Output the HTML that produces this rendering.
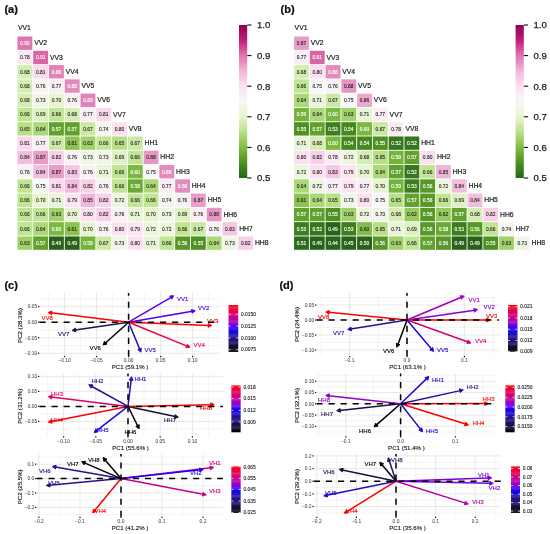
<!DOCTYPE html>
<html lang="en"><head><meta charset="utf-8"><title>Correlation heatmaps and PCA biplots</title>
<style>
html,body{margin:0;padding:0;background:#fff;}
body{width:550px;height:534px;overflow:hidden;}
svg{display:block;font-family:"Liberation Sans", Arial, sans-serif;}
</style></head><body>
<svg width="550" height="534" viewBox="0 0 550 534">
<rect width="550" height="534" fill="#ffffff"/>
<g class="hm">
<text x="4.40" y="12.90" font-size="11" fill="#111" stroke="#111" stroke-width="0.24" text-anchor="start" font-weight="bold">(a)</text>
<text x="18.00" y="29.90" font-size="6.8" fill="#1c1c1c" stroke="#1c1c1c" stroke-width="0.20" text-anchor="start">VV1</text>
<rect x="17.45" y="36.50" width="14.87" height="13.38" fill="#de77ae"/>
<text x="24.88" y="45.05" font-size="4.9" fill="#ffffff" stroke="#ffffff" stroke-width="0.11" text-anchor="middle">0.90</text>
<text x="34.17" y="45.24" font-size="6.8" fill="#1c1c1c" stroke="#1c1c1c" stroke-width="0.20" text-anchor="start">VV2</text>
<rect x="17.45" y="50.78" width="14.87" height="13.38" fill="#fbe9f2"/>
<text x="24.88" y="59.33" font-size="4.9" fill="#262626" stroke="#262626" stroke-width="0.11" text-anchor="middle">0.78</text>
<rect x="33.22" y="50.78" width="14.87" height="13.38" fill="#d965a4"/>
<text x="40.65" y="59.33" font-size="4.9" fill="#ffffff" stroke="#ffffff" stroke-width="0.11" text-anchor="middle">0.91</text>
<text x="49.94" y="59.52" font-size="6.8" fill="#1c1c1c" stroke="#1c1c1c" stroke-width="0.20" text-anchor="start">VV3</text>
<rect x="17.45" y="65.06" width="14.87" height="13.38" fill="#d4edb3"/>
<text x="24.88" y="73.61" font-size="4.9" fill="#262626" stroke="#262626" stroke-width="0.11" text-anchor="middle">0.68</text>
<rect x="33.22" y="65.06" width="14.87" height="13.38" fill="#fbd8eb"/>
<text x="40.65" y="73.61" font-size="4.9" fill="#262626" stroke="#262626" stroke-width="0.11" text-anchor="middle">0.81</text>
<rect x="48.99" y="65.06" width="14.87" height="13.38" fill="#e283b7"/>
<text x="56.42" y="73.61" font-size="4.9" fill="#ffffff" stroke="#ffffff" stroke-width="0.11" text-anchor="middle">0.89</text>
<text x="65.71" y="73.80" font-size="6.8" fill="#1c1c1c" stroke="#1c1c1c" stroke-width="0.20" text-anchor="start">VV4</text>
<rect x="17.45" y="79.34" width="14.87" height="13.38" fill="#d4edb3"/>
<text x="24.88" y="87.89" font-size="4.9" fill="#262626" stroke="#262626" stroke-width="0.11" text-anchor="middle">0.68</text>
<rect x="33.22" y="79.34" width="14.87" height="13.38" fill="#f8f2f5"/>
<text x="40.65" y="87.89" font-size="4.9" fill="#262626" stroke="#262626" stroke-width="0.11" text-anchor="middle">0.76</text>
<rect x="48.99" y="79.34" width="14.87" height="13.38" fill="#f9eef4"/>
<text x="56.42" y="87.89" font-size="4.9" fill="#262626" stroke="#262626" stroke-width="0.11" text-anchor="middle">0.77</text>
<rect x="64.76" y="79.34" width="14.87" height="13.38" fill="#e48bbc"/>
<text x="72.20" y="87.89" font-size="4.9" fill="#ffffff" stroke="#ffffff" stroke-width="0.11" text-anchor="middle">0.88</text>
<text x="81.48" y="88.08" font-size="6.8" fill="#1c1c1c" stroke="#1c1c1c" stroke-width="0.20" text-anchor="start">VV5</text>
<rect x="17.45" y="93.62" width="14.87" height="13.38" fill="#d4edb3"/>
<text x="24.88" y="102.17" font-size="4.9" fill="#262626" stroke="#262626" stroke-width="0.11" text-anchor="middle">0.68</text>
<rect x="33.22" y="93.62" width="14.87" height="13.38" fill="#f0f6e7"/>
<text x="40.65" y="102.17" font-size="4.9" fill="#262626" stroke="#262626" stroke-width="0.11" text-anchor="middle">0.73</text>
<rect x="48.99" y="93.62" width="14.87" height="13.38" fill="#e6f5d0"/>
<text x="56.42" y="102.17" font-size="4.9" fill="#262626" stroke="#262626" stroke-width="0.11" text-anchor="middle">0.70</text>
<rect x="64.76" y="93.62" width="14.87" height="13.38" fill="#f8f2f5"/>
<text x="72.20" y="102.17" font-size="4.9" fill="#262626" stroke="#262626" stroke-width="0.11" text-anchor="middle">0.76</text>
<rect x="80.53" y="93.62" width="14.87" height="13.38" fill="#e283b7"/>
<text x="87.97" y="102.17" font-size="4.9" fill="#ffffff" stroke="#ffffff" stroke-width="0.11" text-anchor="middle">0.89</text>
<text x="97.25" y="102.36" font-size="6.8" fill="#1c1c1c" stroke="#1c1c1c" stroke-width="0.20" text-anchor="start">VV6</text>
<rect x="17.45" y="107.90" width="14.87" height="13.38" fill="#c0e593"/>
<text x="24.88" y="116.45" font-size="4.9" fill="#262626" stroke="#262626" stroke-width="0.11" text-anchor="middle">0.66</text>
<rect x="33.22" y="107.90" width="14.87" height="13.38" fill="#ddf1c1"/>
<text x="40.65" y="116.45" font-size="4.9" fill="#262626" stroke="#262626" stroke-width="0.11" text-anchor="middle">0.69</text>
<rect x="48.99" y="107.90" width="14.87" height="13.38" fill="#c0e593"/>
<text x="56.42" y="116.45" font-size="4.9" fill="#262626" stroke="#262626" stroke-width="0.11" text-anchor="middle">0.66</text>
<rect x="64.76" y="107.90" width="14.87" height="13.38" fill="#d4edb3"/>
<text x="72.20" y="116.45" font-size="4.9" fill="#262626" stroke="#262626" stroke-width="0.11" text-anchor="middle">0.68</text>
<rect x="80.53" y="107.90" width="14.87" height="13.38" fill="#f9eef4"/>
<text x="87.97" y="116.45" font-size="4.9" fill="#262626" stroke="#262626" stroke-width="0.11" text-anchor="middle">0.77</text>
<rect x="96.30" y="107.90" width="14.87" height="13.38" fill="#fbd8eb"/>
<text x="103.73" y="116.45" font-size="4.9" fill="#262626" stroke="#262626" stroke-width="0.11" text-anchor="middle">0.81</text>
<text x="113.02" y="116.64" font-size="6.8" fill="#1c1c1c" stroke="#1c1c1c" stroke-width="0.20" text-anchor="start">VV7</text>
<rect x="17.45" y="122.18" width="14.87" height="13.38" fill="#b7e085"/>
<text x="24.88" y="130.73" font-size="4.9" fill="#262626" stroke="#262626" stroke-width="0.11" text-anchor="middle">0.65</text>
<rect x="33.22" y="122.18" width="14.87" height="13.38" fill="#acd977"/>
<text x="40.65" y="130.73" font-size="4.9" fill="#262626" stroke="#262626" stroke-width="0.11" text-anchor="middle">0.64</text>
<rect x="48.99" y="122.18" width="14.87" height="13.38" fill="#60a22d"/>
<text x="56.42" y="130.73" font-size="4.9" fill="#ffffff" stroke="#ffffff" stroke-width="0.11" text-anchor="middle">0.57</text>
<rect x="64.76" y="122.18" width="14.87" height="13.38" fill="#60a22d"/>
<text x="72.20" y="130.73" font-size="4.9" fill="#ffffff" stroke="#ffffff" stroke-width="0.11" text-anchor="middle">0.57</text>
<rect x="80.53" y="122.18" width="14.87" height="13.38" fill="#cbe9a4"/>
<text x="87.97" y="130.73" font-size="4.9" fill="#262626" stroke="#262626" stroke-width="0.11" text-anchor="middle">0.67</text>
<rect x="96.30" y="122.18" width="14.87" height="13.38" fill="#f3f7ef"/>
<text x="103.73" y="130.73" font-size="4.9" fill="#262626" stroke="#262626" stroke-width="0.11" text-anchor="middle">0.74</text>
<rect x="112.07" y="122.18" width="14.87" height="13.38" fill="#fde0ef"/>
<text x="119.51" y="130.73" font-size="4.9" fill="#262626" stroke="#262626" stroke-width="0.11" text-anchor="middle">0.80</text>
<text x="128.79" y="130.92" font-size="6.8" fill="#1c1c1c" stroke="#1c1c1c" stroke-width="0.20" text-anchor="start">VV8</text>
<rect x="17.45" y="136.46" width="14.87" height="13.38" fill="#fbd8eb"/>
<text x="24.88" y="145.01" font-size="4.9" fill="#262626" stroke="#262626" stroke-width="0.11" text-anchor="middle">0.81</text>
<rect x="33.22" y="136.46" width="14.87" height="13.38" fill="#f9eef4"/>
<text x="40.65" y="145.01" font-size="4.9" fill="#262626" stroke="#262626" stroke-width="0.11" text-anchor="middle">0.77</text>
<rect x="48.99" y="136.46" width="14.87" height="13.38" fill="#cbe9a4"/>
<text x="56.42" y="145.01" font-size="4.9" fill="#262626" stroke="#262626" stroke-width="0.11" text-anchor="middle">0.67</text>
<rect x="64.76" y="136.46" width="14.87" height="13.38" fill="#8ac34f"/>
<text x="72.20" y="145.01" font-size="4.9" fill="#262626" stroke="#262626" stroke-width="0.11" text-anchor="middle">0.61</text>
<rect x="80.53" y="136.46" width="14.87" height="13.38" fill="#a1d26a"/>
<text x="87.97" y="145.01" font-size="4.9" fill="#262626" stroke="#262626" stroke-width="0.11" text-anchor="middle">0.63</text>
<rect x="96.30" y="136.46" width="14.87" height="13.38" fill="#c0e593"/>
<text x="103.73" y="145.01" font-size="4.9" fill="#262626" stroke="#262626" stroke-width="0.11" text-anchor="middle">0.66</text>
<rect x="112.07" y="136.46" width="14.87" height="13.38" fill="#b7e085"/>
<text x="119.51" y="145.01" font-size="4.9" fill="#262626" stroke="#262626" stroke-width="0.11" text-anchor="middle">0.65</text>
<rect x="127.84" y="136.46" width="14.87" height="13.38" fill="#cbe9a4"/>
<text x="135.28" y="145.01" font-size="4.9" fill="#262626" stroke="#262626" stroke-width="0.11" text-anchor="middle">0.67</text>
<text x="144.56" y="145.20" font-size="6.8" fill="#1c1c1c" stroke="#1c1c1c" stroke-width="0.20" text-anchor="start">HH1</text>
<rect x="17.45" y="150.74" width="14.87" height="13.38" fill="#f3bdde"/>
<text x="24.88" y="159.29" font-size="4.9" fill="#262626" stroke="#262626" stroke-width="0.11" text-anchor="middle">0.84</text>
<rect x="33.22" y="150.74" width="14.87" height="13.38" fill="#e99cc8"/>
<text x="40.65" y="159.29" font-size="4.9" fill="#262626" stroke="#262626" stroke-width="0.11" text-anchor="middle">0.87</text>
<rect x="48.99" y="150.74" width="14.87" height="13.38" fill="#f8d0e7"/>
<text x="56.42" y="159.29" font-size="4.9" fill="#262626" stroke="#262626" stroke-width="0.11" text-anchor="middle">0.82</text>
<rect x="64.76" y="150.74" width="14.87" height="13.38" fill="#f8f2f5"/>
<text x="72.20" y="159.29" font-size="4.9" fill="#262626" stroke="#262626" stroke-width="0.11" text-anchor="middle">0.76</text>
<rect x="80.53" y="150.74" width="14.87" height="13.38" fill="#f0f6e7"/>
<text x="87.97" y="159.29" font-size="4.9" fill="#262626" stroke="#262626" stroke-width="0.11" text-anchor="middle">0.73</text>
<rect x="96.30" y="150.74" width="14.87" height="13.38" fill="#f0f6e7"/>
<text x="103.73" y="159.29" font-size="4.9" fill="#262626" stroke="#262626" stroke-width="0.11" text-anchor="middle">0.73</text>
<rect x="112.07" y="150.74" width="14.87" height="13.38" fill="#ddf1c1"/>
<text x="119.51" y="159.29" font-size="4.9" fill="#262626" stroke="#262626" stroke-width="0.11" text-anchor="middle">0.69</text>
<rect x="127.84" y="150.74" width="14.87" height="13.38" fill="#c0e593"/>
<text x="135.28" y="159.29" font-size="4.9" fill="#262626" stroke="#262626" stroke-width="0.11" text-anchor="middle">0.66</text>
<rect x="143.61" y="150.74" width="14.87" height="13.38" fill="#e795c3"/>
<text x="151.04" y="159.29" font-size="4.9" fill="#262626" stroke="#262626" stroke-width="0.11" text-anchor="middle">0.88</text>
<text x="160.33" y="159.48" font-size="6.8" fill="#1c1c1c" stroke="#1c1c1c" stroke-width="0.20" text-anchor="start">HH2</text>
<rect x="17.45" y="165.02" width="14.87" height="13.38" fill="#f8f2f5"/>
<text x="24.88" y="173.57" font-size="4.9" fill="#262626" stroke="#262626" stroke-width="0.11" text-anchor="middle">0.76</text>
<rect x="33.22" y="165.02" width="14.87" height="13.38" fill="#f3bdde"/>
<text x="40.65" y="173.57" font-size="4.9" fill="#262626" stroke="#262626" stroke-width="0.11" text-anchor="middle">0.84</text>
<rect x="48.99" y="165.02" width="14.87" height="13.38" fill="#e99cc8"/>
<text x="56.42" y="173.57" font-size="4.9" fill="#262626" stroke="#262626" stroke-width="0.11" text-anchor="middle">0.87</text>
<rect x="64.76" y="165.02" width="14.87" height="13.38" fill="#f6c7e3"/>
<text x="72.20" y="173.57" font-size="4.9" fill="#262626" stroke="#262626" stroke-width="0.11" text-anchor="middle">0.83</text>
<rect x="80.53" y="165.02" width="14.87" height="13.38" fill="#f8f2f5"/>
<text x="87.97" y="173.57" font-size="4.9" fill="#262626" stroke="#262626" stroke-width="0.11" text-anchor="middle">0.76</text>
<rect x="96.30" y="165.02" width="14.87" height="13.38" fill="#e9f5d8"/>
<text x="103.73" y="173.57" font-size="4.9" fill="#262626" stroke="#262626" stroke-width="0.11" text-anchor="middle">0.71</text>
<rect x="112.07" y="165.02" width="14.87" height="13.38" fill="#c0e593"/>
<text x="119.51" y="173.57" font-size="4.9" fill="#262626" stroke="#262626" stroke-width="0.11" text-anchor="middle">0.66</text>
<rect x="127.84" y="165.02" width="14.87" height="13.38" fill="#7bb93e"/>
<text x="135.28" y="173.57" font-size="4.9" fill="#ffffff" stroke="#ffffff" stroke-width="0.11" text-anchor="middle">0.60</text>
<rect x="143.61" y="165.02" width="14.87" height="13.38" fill="#f7f7f7"/>
<text x="151.04" y="173.57" font-size="4.9" fill="#262626" stroke="#262626" stroke-width="0.11" text-anchor="middle">0.75</text>
<rect x="159.38" y="165.02" width="14.87" height="13.38" fill="#e48bbc"/>
<text x="166.81" y="173.57" font-size="4.9" fill="#ffffff" stroke="#ffffff" stroke-width="0.11" text-anchor="middle">0.88</text>
<text x="176.10" y="173.76" font-size="6.8" fill="#1c1c1c" stroke="#1c1c1c" stroke-width="0.20" text-anchor="start">HH3</text>
<rect x="17.45" y="179.30" width="14.87" height="13.38" fill="#c0e593"/>
<text x="24.88" y="187.85" font-size="4.9" fill="#262626" stroke="#262626" stroke-width="0.11" text-anchor="middle">0.66</text>
<rect x="33.22" y="179.30" width="14.87" height="13.38" fill="#f7f7f7"/>
<text x="40.65" y="187.85" font-size="4.9" fill="#262626" stroke="#262626" stroke-width="0.11" text-anchor="middle">0.75</text>
<rect x="48.99" y="179.30" width="14.87" height="13.38" fill="#fbd8eb"/>
<text x="56.42" y="187.85" font-size="4.9" fill="#262626" stroke="#262626" stroke-width="0.11" text-anchor="middle">0.81</text>
<rect x="64.76" y="179.30" width="14.87" height="13.38" fill="#f3bdde"/>
<text x="72.20" y="187.85" font-size="4.9" fill="#262626" stroke="#262626" stroke-width="0.11" text-anchor="middle">0.84</text>
<rect x="80.53" y="179.30" width="14.87" height="13.38" fill="#f8d0e7"/>
<text x="87.97" y="187.85" font-size="4.9" fill="#262626" stroke="#262626" stroke-width="0.11" text-anchor="middle">0.82</text>
<rect x="96.30" y="179.30" width="14.87" height="13.38" fill="#f8f2f5"/>
<text x="103.73" y="187.85" font-size="4.9" fill="#262626" stroke="#262626" stroke-width="0.11" text-anchor="middle">0.76</text>
<rect x="112.07" y="179.30" width="14.87" height="13.38" fill="#c0e593"/>
<text x="119.51" y="187.85" font-size="4.9" fill="#262626" stroke="#262626" stroke-width="0.11" text-anchor="middle">0.66</text>
<rect x="127.84" y="179.30" width="14.87" height="13.38" fill="#69aa33"/>
<text x="135.28" y="187.85" font-size="4.9" fill="#ffffff" stroke="#ffffff" stroke-width="0.11" text-anchor="middle">0.58</text>
<rect x="143.61" y="179.30" width="14.87" height="13.38" fill="#acd977"/>
<text x="151.04" y="187.85" font-size="4.9" fill="#262626" stroke="#262626" stroke-width="0.11" text-anchor="middle">0.64</text>
<rect x="159.38" y="179.30" width="14.87" height="13.38" fill="#f9eef4"/>
<text x="166.81" y="187.85" font-size="4.9" fill="#262626" stroke="#262626" stroke-width="0.11" text-anchor="middle">0.77</text>
<rect x="175.15" y="179.30" width="14.87" height="13.38" fill="#e48bbc"/>
<text x="182.58" y="187.85" font-size="4.9" fill="#ffffff" stroke="#ffffff" stroke-width="0.11" text-anchor="middle">0.88</text>
<text x="191.87" y="188.04" font-size="6.8" fill="#1c1c1c" stroke="#1c1c1c" stroke-width="0.20" text-anchor="start">HH4</text>
<rect x="17.45" y="193.58" width="14.87" height="13.38" fill="#c0e593"/>
<text x="24.88" y="202.13" font-size="4.9" fill="#262626" stroke="#262626" stroke-width="0.11" text-anchor="middle">0.66</text>
<rect x="33.22" y="193.58" width="14.87" height="13.38" fill="#e6f5d0"/>
<text x="40.65" y="202.13" font-size="4.9" fill="#262626" stroke="#262626" stroke-width="0.11" text-anchor="middle">0.70</text>
<rect x="48.99" y="193.58" width="14.87" height="13.38" fill="#e9f5d8"/>
<text x="56.42" y="202.13" font-size="4.9" fill="#262626" stroke="#262626" stroke-width="0.11" text-anchor="middle">0.71</text>
<rect x="64.76" y="193.58" width="14.87" height="13.38" fill="#fce5f1"/>
<text x="72.20" y="202.13" font-size="4.9" fill="#262626" stroke="#262626" stroke-width="0.11" text-anchor="middle">0.79</text>
<rect x="80.53" y="193.58" width="14.87" height="13.38" fill="#f1b5d9"/>
<text x="87.97" y="202.13" font-size="4.9" fill="#262626" stroke="#262626" stroke-width="0.11" text-anchor="middle">0.85</text>
<rect x="96.30" y="193.58" width="14.87" height="13.38" fill="#f8d0e7"/>
<text x="103.73" y="202.13" font-size="4.9" fill="#262626" stroke="#262626" stroke-width="0.11" text-anchor="middle">0.82</text>
<rect x="112.07" y="193.58" width="14.87" height="13.38" fill="#edf6df"/>
<text x="119.51" y="202.13" font-size="4.9" fill="#262626" stroke="#262626" stroke-width="0.11" text-anchor="middle">0.72</text>
<rect x="127.84" y="193.58" width="14.87" height="13.38" fill="#c0e593"/>
<text x="135.28" y="202.13" font-size="4.9" fill="#262626" stroke="#262626" stroke-width="0.11" text-anchor="middle">0.66</text>
<rect x="143.61" y="193.58" width="14.87" height="13.38" fill="#c0e593"/>
<text x="151.04" y="202.13" font-size="4.9" fill="#262626" stroke="#262626" stroke-width="0.11" text-anchor="middle">0.66</text>
<rect x="159.38" y="193.58" width="14.87" height="13.38" fill="#f3f7ef"/>
<text x="166.81" y="202.13" font-size="4.9" fill="#262626" stroke="#262626" stroke-width="0.11" text-anchor="middle">0.74</text>
<rect x="175.15" y="193.58" width="14.87" height="13.38" fill="#f8f2f5"/>
<text x="182.58" y="202.13" font-size="4.9" fill="#262626" stroke="#262626" stroke-width="0.11" text-anchor="middle">0.76</text>
<rect x="190.92" y="193.58" width="14.87" height="13.38" fill="#e99cc8"/>
<text x="198.35" y="202.13" font-size="4.9" fill="#262626" stroke="#262626" stroke-width="0.11" text-anchor="middle">0.87</text>
<text x="207.64" y="202.32" font-size="6.8" fill="#1c1c1c" stroke="#1c1c1c" stroke-width="0.20" text-anchor="start">HH5</text>
<rect x="17.45" y="207.86" width="14.87" height="13.38" fill="#c0e593"/>
<text x="24.88" y="216.41" font-size="4.9" fill="#262626" stroke="#262626" stroke-width="0.11" text-anchor="middle">0.66</text>
<rect x="33.22" y="207.86" width="14.87" height="13.38" fill="#c0e593"/>
<text x="40.65" y="216.41" font-size="4.9" fill="#262626" stroke="#262626" stroke-width="0.11" text-anchor="middle">0.66</text>
<rect x="48.99" y="207.86" width="14.87" height="13.38" fill="#a1d26a"/>
<text x="56.42" y="216.41" font-size="4.9" fill="#262626" stroke="#262626" stroke-width="0.11" text-anchor="middle">0.63</text>
<rect x="64.76" y="207.86" width="14.87" height="13.38" fill="#e6f5d0"/>
<text x="72.20" y="216.41" font-size="4.9" fill="#262626" stroke="#262626" stroke-width="0.11" text-anchor="middle">0.70</text>
<rect x="80.53" y="207.86" width="14.87" height="13.38" fill="#fde0ef"/>
<text x="87.97" y="216.41" font-size="4.9" fill="#262626" stroke="#262626" stroke-width="0.11" text-anchor="middle">0.80</text>
<rect x="96.30" y="207.86" width="14.87" height="13.38" fill="#f8d0e7"/>
<text x="103.73" y="216.41" font-size="4.9" fill="#262626" stroke="#262626" stroke-width="0.11" text-anchor="middle">0.82</text>
<rect x="112.07" y="207.86" width="14.87" height="13.38" fill="#f8f2f5"/>
<text x="119.51" y="216.41" font-size="4.9" fill="#262626" stroke="#262626" stroke-width="0.11" text-anchor="middle">0.76</text>
<rect x="127.84" y="207.86" width="14.87" height="13.38" fill="#e9f5d8"/>
<text x="135.28" y="216.41" font-size="4.9" fill="#262626" stroke="#262626" stroke-width="0.11" text-anchor="middle">0.71</text>
<rect x="143.61" y="207.86" width="14.87" height="13.38" fill="#e6f5d0"/>
<text x="151.04" y="216.41" font-size="4.9" fill="#262626" stroke="#262626" stroke-width="0.11" text-anchor="middle">0.70</text>
<rect x="159.38" y="207.86" width="14.87" height="13.38" fill="#f0f6e7"/>
<text x="166.81" y="216.41" font-size="4.9" fill="#262626" stroke="#262626" stroke-width="0.11" text-anchor="middle">0.73</text>
<rect x="175.15" y="207.86" width="14.87" height="13.38" fill="#ddf1c1"/>
<text x="182.58" y="216.41" font-size="4.9" fill="#262626" stroke="#262626" stroke-width="0.11" text-anchor="middle">0.69</text>
<rect x="190.92" y="207.86" width="14.87" height="13.38" fill="#f8f2f5"/>
<text x="198.35" y="216.41" font-size="4.9" fill="#262626" stroke="#262626" stroke-width="0.11" text-anchor="middle">0.76</text>
<rect x="206.69" y="207.86" width="14.87" height="13.38" fill="#e795c3"/>
<text x="214.12" y="216.41" font-size="4.9" fill="#262626" stroke="#262626" stroke-width="0.11" text-anchor="middle">0.88</text>
<text x="223.41" y="216.60" font-size="6.8" fill="#1c1c1c" stroke="#1c1c1c" stroke-width="0.20" text-anchor="start">HH6</text>
<rect x="17.45" y="222.14" width="14.87" height="13.38" fill="#c0e593"/>
<text x="24.88" y="230.69" font-size="4.9" fill="#262626" stroke="#262626" stroke-width="0.11" text-anchor="middle">0.66</text>
<rect x="33.22" y="222.14" width="14.87" height="13.38" fill="#acd977"/>
<text x="40.65" y="230.69" font-size="4.9" fill="#262626" stroke="#262626" stroke-width="0.11" text-anchor="middle">0.64</text>
<rect x="48.99" y="222.14" width="14.87" height="13.38" fill="#7bb93e"/>
<text x="56.42" y="230.69" font-size="4.9" fill="#ffffff" stroke="#ffffff" stroke-width="0.11" text-anchor="middle">0.60</text>
<rect x="64.76" y="222.14" width="14.87" height="13.38" fill="#8ac34f"/>
<text x="72.20" y="230.69" font-size="4.9" fill="#262626" stroke="#262626" stroke-width="0.11" text-anchor="middle">0.61</text>
<rect x="80.53" y="222.14" width="14.87" height="13.38" fill="#e6f5d0"/>
<text x="87.97" y="230.69" font-size="4.9" fill="#262626" stroke="#262626" stroke-width="0.11" text-anchor="middle">0.70</text>
<rect x="96.30" y="222.14" width="14.87" height="13.38" fill="#f8f2f5"/>
<text x="103.73" y="230.69" font-size="4.9" fill="#262626" stroke="#262626" stroke-width="0.11" text-anchor="middle">0.76</text>
<rect x="112.07" y="222.14" width="14.87" height="13.38" fill="#fde0ef"/>
<text x="119.51" y="230.69" font-size="4.9" fill="#262626" stroke="#262626" stroke-width="0.11" text-anchor="middle">0.80</text>
<rect x="127.84" y="222.14" width="14.87" height="13.38" fill="#fce5f1"/>
<text x="135.28" y="230.69" font-size="4.9" fill="#262626" stroke="#262626" stroke-width="0.11" text-anchor="middle">0.79</text>
<rect x="143.61" y="222.14" width="14.87" height="13.38" fill="#edf6df"/>
<text x="151.04" y="230.69" font-size="4.9" fill="#262626" stroke="#262626" stroke-width="0.11" text-anchor="middle">0.72</text>
<rect x="159.38" y="222.14" width="14.87" height="13.38" fill="#edf6df"/>
<text x="166.81" y="230.69" font-size="4.9" fill="#262626" stroke="#262626" stroke-width="0.11" text-anchor="middle">0.72</text>
<rect x="175.15" y="222.14" width="14.87" height="13.38" fill="#c0e593"/>
<text x="182.58" y="230.69" font-size="4.9" fill="#262626" stroke="#262626" stroke-width="0.11" text-anchor="middle">0.66</text>
<rect x="190.92" y="222.14" width="14.87" height="13.38" fill="#cbe9a4"/>
<text x="198.35" y="230.69" font-size="4.9" fill="#262626" stroke="#262626" stroke-width="0.11" text-anchor="middle">0.67</text>
<rect x="206.69" y="222.14" width="14.87" height="13.38" fill="#f8f2f5"/>
<text x="214.12" y="230.69" font-size="4.9" fill="#262626" stroke="#262626" stroke-width="0.11" text-anchor="middle">0.76</text>
<rect x="222.46" y="222.14" width="14.87" height="13.38" fill="#f6c7e3"/>
<text x="229.89" y="230.69" font-size="4.9" fill="#262626" stroke="#262626" stroke-width="0.11" text-anchor="middle">0.83</text>
<text x="239.18" y="230.88" font-size="6.8" fill="#1c1c1c" stroke="#1c1c1c" stroke-width="0.20" text-anchor="start">HH7</text>
<rect x="17.45" y="236.42" width="14.87" height="13.38" fill="#a1d26a"/>
<text x="24.88" y="244.97" font-size="4.9" fill="#262626" stroke="#262626" stroke-width="0.11" text-anchor="middle">0.63</text>
<rect x="33.22" y="236.42" width="14.87" height="13.38" fill="#60a22d"/>
<text x="40.65" y="244.97" font-size="4.9" fill="#ffffff" stroke="#ffffff" stroke-width="0.11" text-anchor="middle">0.57</text>
<rect x="48.99" y="236.42" width="14.87" height="13.38" fill="#276419"/>
<text x="56.42" y="244.97" font-size="4.9" fill="#ffffff" stroke="#ffffff" stroke-width="0.11" text-anchor="middle">0.49</text>
<rect x="64.76" y="236.42" width="14.87" height="13.38" fill="#276419"/>
<text x="72.20" y="244.97" font-size="4.9" fill="#ffffff" stroke="#ffffff" stroke-width="0.11" text-anchor="middle">0.49</text>
<rect x="80.53" y="236.42" width="14.87" height="13.38" fill="#75b43b"/>
<text x="87.97" y="244.97" font-size="4.9" fill="#ffffff" stroke="#ffffff" stroke-width="0.11" text-anchor="middle">0.59</text>
<rect x="96.30" y="236.42" width="14.87" height="13.38" fill="#cbe9a4"/>
<text x="103.73" y="244.97" font-size="4.9" fill="#262626" stroke="#262626" stroke-width="0.11" text-anchor="middle">0.67</text>
<rect x="112.07" y="236.42" width="14.87" height="13.38" fill="#f0f6e7"/>
<text x="119.51" y="244.97" font-size="4.9" fill="#262626" stroke="#262626" stroke-width="0.11" text-anchor="middle">0.73</text>
<rect x="127.84" y="236.42" width="14.87" height="13.38" fill="#fde0ef"/>
<text x="135.28" y="244.97" font-size="4.9" fill="#262626" stroke="#262626" stroke-width="0.11" text-anchor="middle">0.80</text>
<rect x="143.61" y="236.42" width="14.87" height="13.38" fill="#e9f5d8"/>
<text x="151.04" y="244.97" font-size="4.9" fill="#262626" stroke="#262626" stroke-width="0.11" text-anchor="middle">0.71</text>
<rect x="159.38" y="236.42" width="14.87" height="13.38" fill="#c0e593"/>
<text x="166.81" y="244.97" font-size="4.9" fill="#262626" stroke="#262626" stroke-width="0.11" text-anchor="middle">0.66</text>
<rect x="175.15" y="236.42" width="14.87" height="13.38" fill="#569927"/>
<text x="182.58" y="244.97" font-size="4.9" fill="#ffffff" stroke="#ffffff" stroke-width="0.11" text-anchor="middle">0.56</text>
<rect x="190.92" y="236.42" width="14.87" height="13.38" fill="#4c9121"/>
<text x="198.35" y="244.97" font-size="4.9" fill="#ffffff" stroke="#ffffff" stroke-width="0.11" text-anchor="middle">0.55</text>
<rect x="206.69" y="236.42" width="14.87" height="13.38" fill="#acd977"/>
<text x="214.12" y="244.97" font-size="4.9" fill="#262626" stroke="#262626" stroke-width="0.11" text-anchor="middle">0.64</text>
<rect x="222.46" y="236.42" width="14.87" height="13.38" fill="#f0f6e7"/>
<text x="229.89" y="244.97" font-size="4.9" fill="#262626" stroke="#262626" stroke-width="0.11" text-anchor="middle">0.73</text>
<rect x="238.23" y="236.42" width="14.87" height="13.38" fill="#f8d0e7"/>
<text x="245.66" y="244.97" font-size="4.9" fill="#262626" stroke="#262626" stroke-width="0.11" text-anchor="middle">0.82</text>
<text x="254.95" y="245.16" font-size="6.8" fill="#1c1c1c" stroke="#1c1c1c" stroke-width="0.20" text-anchor="start">HH8</text>
<defs><linearGradient id="cb0" x1="0" y1="0" x2="0" y2="1"><stop offset="0.000" stop-color="#8e0152"/><stop offset="0.050" stop-color="#a80d66"/><stop offset="0.100" stop-color="#c41a7c"/><stop offset="0.150" stop-color="#d14895"/><stop offset="0.200" stop-color="#de77ae"/><stop offset="0.250" stop-color="#e795c3"/><stop offset="0.300" stop-color="#f1b5d9"/><stop offset="0.350" stop-color="#f7cbe4"/><stop offset="0.400" stop-color="#fde0ef"/><stop offset="0.450" stop-color="#faecf3"/><stop offset="0.500" stop-color="#f7f7f7"/><stop offset="0.550" stop-color="#eff6e4"/><stop offset="0.600" stop-color="#e6f5d0"/><stop offset="0.650" stop-color="#cfebaa"/><stop offset="0.700" stop-color="#b7e085"/><stop offset="0.750" stop-color="#9ccf64"/><stop offset="0.800" stop-color="#7fbc41"/><stop offset="0.850" stop-color="#66a731"/><stop offset="0.900" stop-color="#4c9121"/><stop offset="0.950" stop-color="#397a1d"/><stop offset="1.000" stop-color="#276419"/></linearGradient></defs>
<rect x="239.00" y="25.0" width="8.2" height="153.0" fill="url(#cb0)"/>
<line x1="247.20" y1="25.00" x2="251.50" y2="25.00" stroke="#000" stroke-width="1.05"/>
<text x="256.90" y="28.31" font-size="9.6" fill="#1a1a1a" stroke="#1a1a1a" stroke-width="0.25" text-anchor="start">1.0</text>
<line x1="247.20" y1="55.60" x2="251.50" y2="55.60" stroke="#000" stroke-width="1.05"/>
<text x="256.90" y="58.91" font-size="9.6" fill="#1a1a1a" stroke="#1a1a1a" stroke-width="0.25" text-anchor="start">0.9</text>
<line x1="247.20" y1="86.20" x2="251.50" y2="86.20" stroke="#000" stroke-width="1.05"/>
<text x="256.90" y="89.51" font-size="9.6" fill="#1a1a1a" stroke="#1a1a1a" stroke-width="0.25" text-anchor="start">0.8</text>
<line x1="247.20" y1="116.80" x2="251.50" y2="116.80" stroke="#000" stroke-width="1.05"/>
<text x="256.90" y="120.11" font-size="9.6" fill="#1a1a1a" stroke="#1a1a1a" stroke-width="0.25" text-anchor="start">0.7</text>
<line x1="247.20" y1="147.40" x2="251.50" y2="147.40" stroke="#000" stroke-width="1.05"/>
<text x="256.90" y="150.71" font-size="9.6" fill="#1a1a1a" stroke="#1a1a1a" stroke-width="0.25" text-anchor="start">0.6</text>
<line x1="247.20" y1="178.00" x2="251.50" y2="178.00" stroke="#000" stroke-width="1.05"/>
<text x="256.90" y="181.31" font-size="9.6" fill="#1a1a1a" stroke="#1a1a1a" stroke-width="0.25" text-anchor="start">0.5</text>
</g>
<g class="hm">
<text x="280.60" y="12.90" font-size="11" fill="#111" stroke="#111" stroke-width="0.24" text-anchor="start" font-weight="bold">(b)</text>
<text x="294.60" y="29.90" font-size="6.8" fill="#1c1c1c" stroke="#1c1c1c" stroke-width="0.20" text-anchor="start">VV1</text>
<rect x="294.05" y="36.50" width="14.87" height="13.38" fill="#e99cc8"/>
<text x="301.49" y="45.05" font-size="4.9" fill="#262626" stroke="#262626" stroke-width="0.11" text-anchor="middle">0.87</text>
<text x="310.77" y="45.24" font-size="6.8" fill="#1c1c1c" stroke="#1c1c1c" stroke-width="0.20" text-anchor="start">VV2</text>
<rect x="294.05" y="50.78" width="14.87" height="13.38" fill="#f9eef4"/>
<text x="301.49" y="59.33" font-size="4.9" fill="#262626" stroke="#262626" stroke-width="0.11" text-anchor="middle">0.77</text>
<rect x="309.82" y="50.78" width="14.87" height="13.38" fill="#d965a4"/>
<text x="317.25" y="59.33" font-size="4.9" fill="#ffffff" stroke="#ffffff" stroke-width="0.11" text-anchor="middle">0.91</text>
<text x="326.54" y="59.52" font-size="6.8" fill="#1c1c1c" stroke="#1c1c1c" stroke-width="0.20" text-anchor="start">VV3</text>
<rect x="294.05" y="65.06" width="14.87" height="13.38" fill="#d4edb3"/>
<text x="301.49" y="73.61" font-size="4.9" fill="#262626" stroke="#262626" stroke-width="0.11" text-anchor="middle">0.68</text>
<rect x="309.82" y="65.06" width="14.87" height="13.38" fill="#fde0ef"/>
<text x="317.25" y="73.61" font-size="4.9" fill="#262626" stroke="#262626" stroke-width="0.11" text-anchor="middle">0.80</text>
<rect x="325.59" y="65.06" width="14.87" height="13.38" fill="#e48bbc"/>
<text x="333.03" y="73.61" font-size="4.9" fill="#ffffff" stroke="#ffffff" stroke-width="0.11" text-anchor="middle">0.88</text>
<text x="342.31" y="73.80" font-size="6.8" fill="#1c1c1c" stroke="#1c1c1c" stroke-width="0.20" text-anchor="start">VV4</text>
<rect x="294.05" y="79.34" width="14.87" height="13.38" fill="#c0e593"/>
<text x="301.49" y="87.89" font-size="4.9" fill="#262626" stroke="#262626" stroke-width="0.11" text-anchor="middle">0.66</text>
<rect x="309.82" y="79.34" width="14.87" height="13.38" fill="#f7f7f7"/>
<text x="317.25" y="87.89" font-size="4.9" fill="#262626" stroke="#262626" stroke-width="0.11" text-anchor="middle">0.75</text>
<rect x="325.59" y="79.34" width="14.87" height="13.38" fill="#f8f2f5"/>
<text x="333.03" y="87.89" font-size="4.9" fill="#262626" stroke="#262626" stroke-width="0.11" text-anchor="middle">0.76</text>
<rect x="341.36" y="79.34" width="14.87" height="13.38" fill="#e795c3"/>
<text x="348.80" y="87.89" font-size="4.9" fill="#262626" stroke="#262626" stroke-width="0.11" text-anchor="middle">0.88</text>
<text x="358.08" y="88.08" font-size="6.8" fill="#1c1c1c" stroke="#1c1c1c" stroke-width="0.20" text-anchor="start">VV5</text>
<rect x="294.05" y="93.62" width="14.87" height="13.38" fill="#acd977"/>
<text x="301.49" y="102.17" font-size="4.9" fill="#262626" stroke="#262626" stroke-width="0.11" text-anchor="middle">0.64</text>
<rect x="309.82" y="93.62" width="14.87" height="13.38" fill="#e9f5d8"/>
<text x="317.25" y="102.17" font-size="4.9" fill="#262626" stroke="#262626" stroke-width="0.11" text-anchor="middle">0.71</text>
<rect x="325.59" y="93.62" width="14.87" height="13.38" fill="#cbe9a4"/>
<text x="333.03" y="102.17" font-size="4.9" fill="#262626" stroke="#262626" stroke-width="0.11" text-anchor="middle">0.67</text>
<rect x="341.36" y="93.62" width="14.87" height="13.38" fill="#f7f7f7"/>
<text x="348.80" y="102.17" font-size="4.9" fill="#262626" stroke="#262626" stroke-width="0.11" text-anchor="middle">0.75</text>
<rect x="357.13" y="93.62" width="14.87" height="13.38" fill="#eda8d1"/>
<text x="364.56" y="102.17" font-size="4.9" fill="#262626" stroke="#262626" stroke-width="0.11" text-anchor="middle">0.86</text>
<text x="373.85" y="102.36" font-size="6.8" fill="#1c1c1c" stroke="#1c1c1c" stroke-width="0.20" text-anchor="start">VV6</text>
<rect x="294.05" y="107.90" width="14.87" height="13.38" fill="#75b43b"/>
<text x="301.49" y="116.45" font-size="4.9" fill="#ffffff" stroke="#ffffff" stroke-width="0.11" text-anchor="middle">0.59</text>
<rect x="309.82" y="107.90" width="14.87" height="13.38" fill="#acd977"/>
<text x="317.25" y="116.45" font-size="4.9" fill="#262626" stroke="#262626" stroke-width="0.11" text-anchor="middle">0.64</text>
<rect x="325.59" y="107.90" width="14.87" height="13.38" fill="#7bb93e"/>
<text x="333.03" y="116.45" font-size="4.9" fill="#ffffff" stroke="#ffffff" stroke-width="0.11" text-anchor="middle">0.60</text>
<rect x="341.36" y="107.90" width="14.87" height="13.38" fill="#a1d26a"/>
<text x="348.80" y="116.45" font-size="4.9" fill="#262626" stroke="#262626" stroke-width="0.11" text-anchor="middle">0.63</text>
<rect x="357.13" y="107.90" width="14.87" height="13.38" fill="#e9f5d8"/>
<text x="364.56" y="116.45" font-size="4.9" fill="#262626" stroke="#262626" stroke-width="0.11" text-anchor="middle">0.71</text>
<rect x="372.90" y="107.90" width="14.87" height="13.38" fill="#f9eef4"/>
<text x="380.34" y="116.45" font-size="4.9" fill="#262626" stroke="#262626" stroke-width="0.11" text-anchor="middle">0.77</text>
<text x="389.62" y="116.64" font-size="6.8" fill="#1c1c1c" stroke="#1c1c1c" stroke-width="0.20" text-anchor="start">VV7</text>
<rect x="294.05" y="122.18" width="14.87" height="13.38" fill="#4c9121"/>
<text x="301.49" y="130.73" font-size="4.9" fill="#ffffff" stroke="#ffffff" stroke-width="0.11" text-anchor="middle">0.55</text>
<rect x="309.82" y="122.18" width="14.87" height="13.38" fill="#60a22d"/>
<text x="317.25" y="130.73" font-size="4.9" fill="#ffffff" stroke="#ffffff" stroke-width="0.11" text-anchor="middle">0.57</text>
<rect x="325.59" y="122.18" width="14.87" height="13.38" fill="#3d7f1e"/>
<text x="333.03" y="130.73" font-size="4.9" fill="#ffffff" stroke="#ffffff" stroke-width="0.11" text-anchor="middle">0.53</text>
<rect x="341.36" y="122.18" width="14.87" height="13.38" fill="#45881f"/>
<text x="348.80" y="130.73" font-size="4.9" fill="#ffffff" stroke="#ffffff" stroke-width="0.11" text-anchor="middle">0.54</text>
<rect x="357.13" y="122.18" width="14.87" height="13.38" fill="#7bb93e"/>
<text x="364.56" y="130.73" font-size="4.9" fill="#ffffff" stroke="#ffffff" stroke-width="0.11" text-anchor="middle">0.60</text>
<rect x="372.90" y="122.18" width="14.87" height="13.38" fill="#cbe9a4"/>
<text x="380.34" y="130.73" font-size="4.9" fill="#262626" stroke="#262626" stroke-width="0.11" text-anchor="middle">0.67</text>
<rect x="388.67" y="122.18" width="14.87" height="13.38" fill="#fbe9f2"/>
<text x="396.11" y="130.73" font-size="4.9" fill="#262626" stroke="#262626" stroke-width="0.11" text-anchor="middle">0.78</text>
<text x="405.39" y="130.92" font-size="6.8" fill="#1c1c1c" stroke="#1c1c1c" stroke-width="0.20" text-anchor="start">VV8</text>
<rect x="294.05" y="136.46" width="14.87" height="13.38" fill="#e9f5d8"/>
<text x="301.49" y="145.01" font-size="4.9" fill="#262626" stroke="#262626" stroke-width="0.11" text-anchor="middle">0.71</text>
<rect x="309.82" y="136.46" width="14.87" height="13.38" fill="#d4edb3"/>
<text x="317.25" y="145.01" font-size="4.9" fill="#262626" stroke="#262626" stroke-width="0.11" text-anchor="middle">0.68</text>
<rect x="325.59" y="136.46" width="14.87" height="13.38" fill="#7bb93e"/>
<text x="333.03" y="145.01" font-size="4.9" fill="#ffffff" stroke="#ffffff" stroke-width="0.11" text-anchor="middle">0.60</text>
<rect x="341.36" y="136.46" width="14.87" height="13.38" fill="#45881f"/>
<text x="348.80" y="145.01" font-size="4.9" fill="#ffffff" stroke="#ffffff" stroke-width="0.11" text-anchor="middle">0.54</text>
<rect x="357.13" y="136.46" width="14.87" height="13.38" fill="#45881f"/>
<text x="364.56" y="145.01" font-size="4.9" fill="#ffffff" stroke="#ffffff" stroke-width="0.11" text-anchor="middle">0.54</text>
<rect x="372.90" y="136.46" width="14.87" height="13.38" fill="#4c9121"/>
<text x="380.34" y="145.01" font-size="4.9" fill="#ffffff" stroke="#ffffff" stroke-width="0.11" text-anchor="middle">0.55</text>
<rect x="388.67" y="136.46" width="14.87" height="13.38" fill="#36761c"/>
<text x="396.11" y="145.01" font-size="4.9" fill="#ffffff" stroke="#ffffff" stroke-width="0.11" text-anchor="middle">0.52</text>
<rect x="404.44" y="136.46" width="14.87" height="13.38" fill="#36761c"/>
<text x="411.88" y="145.01" font-size="4.9" fill="#ffffff" stroke="#ffffff" stroke-width="0.11" text-anchor="middle">0.52</text>
<text x="421.16" y="145.20" font-size="6.8" fill="#1c1c1c" stroke="#1c1c1c" stroke-width="0.20" text-anchor="start">HH1</text>
<rect x="294.05" y="150.74" width="14.87" height="13.38" fill="#fde0ef"/>
<text x="301.49" y="159.29" font-size="4.9" fill="#262626" stroke="#262626" stroke-width="0.11" text-anchor="middle">0.80</text>
<rect x="309.82" y="150.74" width="14.87" height="13.38" fill="#f8d0e7"/>
<text x="317.25" y="159.29" font-size="4.9" fill="#262626" stroke="#262626" stroke-width="0.11" text-anchor="middle">0.82</text>
<rect x="325.59" y="150.74" width="14.87" height="13.38" fill="#fbe9f2"/>
<text x="333.03" y="159.29" font-size="4.9" fill="#262626" stroke="#262626" stroke-width="0.11" text-anchor="middle">0.78</text>
<rect x="341.36" y="150.74" width="14.87" height="13.38" fill="#edf6df"/>
<text x="348.80" y="159.29" font-size="4.9" fill="#262626" stroke="#262626" stroke-width="0.11" text-anchor="middle">0.72</text>
<rect x="357.13" y="150.74" width="14.87" height="13.38" fill="#d4edb3"/>
<text x="364.56" y="159.29" font-size="4.9" fill="#262626" stroke="#262626" stroke-width="0.11" text-anchor="middle">0.68</text>
<rect x="372.90" y="150.74" width="14.87" height="13.38" fill="#b7e085"/>
<text x="380.34" y="159.29" font-size="4.9" fill="#262626" stroke="#262626" stroke-width="0.11" text-anchor="middle">0.65</text>
<rect x="388.67" y="150.74" width="14.87" height="13.38" fill="#75b43b"/>
<text x="396.11" y="159.29" font-size="4.9" fill="#ffffff" stroke="#ffffff" stroke-width="0.11" text-anchor="middle">0.59</text>
<rect x="404.44" y="150.74" width="14.87" height="13.38" fill="#60a22d"/>
<text x="411.88" y="159.29" font-size="4.9" fill="#ffffff" stroke="#ffffff" stroke-width="0.11" text-anchor="middle">0.57</text>
<rect x="420.21" y="150.74" width="14.87" height="13.38" fill="#fde0ef"/>
<text x="427.64" y="159.29" font-size="4.9" fill="#262626" stroke="#262626" stroke-width="0.11" text-anchor="middle">0.80</text>
<text x="436.93" y="159.48" font-size="6.8" fill="#1c1c1c" stroke="#1c1c1c" stroke-width="0.20" text-anchor="start">HH2</text>
<rect x="294.05" y="165.02" width="14.87" height="13.38" fill="#edf6df"/>
<text x="301.49" y="173.57" font-size="4.9" fill="#262626" stroke="#262626" stroke-width="0.11" text-anchor="middle">0.72</text>
<rect x="309.82" y="165.02" width="14.87" height="13.38" fill="#fde0ef"/>
<text x="317.25" y="173.57" font-size="4.9" fill="#262626" stroke="#262626" stroke-width="0.11" text-anchor="middle">0.80</text>
<rect x="325.59" y="165.02" width="14.87" height="13.38" fill="#f6c7e3"/>
<text x="333.03" y="173.57" font-size="4.9" fill="#262626" stroke="#262626" stroke-width="0.11" text-anchor="middle">0.83</text>
<rect x="341.36" y="165.02" width="14.87" height="13.38" fill="#fce5f1"/>
<text x="348.80" y="173.57" font-size="4.9" fill="#262626" stroke="#262626" stroke-width="0.11" text-anchor="middle">0.79</text>
<rect x="357.13" y="165.02" width="14.87" height="13.38" fill="#e6f5d0"/>
<text x="364.56" y="173.57" font-size="4.9" fill="#262626" stroke="#262626" stroke-width="0.11" text-anchor="middle">0.70</text>
<rect x="372.90" y="165.02" width="14.87" height="13.38" fill="#acd977"/>
<text x="380.34" y="173.57" font-size="4.9" fill="#262626" stroke="#262626" stroke-width="0.11" text-anchor="middle">0.64</text>
<rect x="388.67" y="165.02" width="14.87" height="13.38" fill="#60a22d"/>
<text x="396.11" y="173.57" font-size="4.9" fill="#ffffff" stroke="#ffffff" stroke-width="0.11" text-anchor="middle">0.57</text>
<rect x="404.44" y="165.02" width="14.87" height="13.38" fill="#36761c"/>
<text x="411.88" y="173.57" font-size="4.9" fill="#ffffff" stroke="#ffffff" stroke-width="0.11" text-anchor="middle">0.52</text>
<rect x="420.21" y="165.02" width="14.87" height="13.38" fill="#c0e593"/>
<text x="427.64" y="173.57" font-size="4.9" fill="#262626" stroke="#262626" stroke-width="0.11" text-anchor="middle">0.66</text>
<rect x="435.98" y="165.02" width="14.87" height="13.38" fill="#f1b5d9"/>
<text x="443.42" y="173.57" font-size="4.9" fill="#262626" stroke="#262626" stroke-width="0.11" text-anchor="middle">0.85</text>
<text x="452.70" y="173.76" font-size="6.8" fill="#1c1c1c" stroke="#1c1c1c" stroke-width="0.20" text-anchor="start">HH3</text>
<rect x="294.05" y="179.30" width="14.87" height="13.38" fill="#acd977"/>
<text x="301.49" y="187.85" font-size="4.9" fill="#262626" stroke="#262626" stroke-width="0.11" text-anchor="middle">0.64</text>
<rect x="309.82" y="179.30" width="14.87" height="13.38" fill="#edf6df"/>
<text x="317.25" y="187.85" font-size="4.9" fill="#262626" stroke="#262626" stroke-width="0.11" text-anchor="middle">0.72</text>
<rect x="325.59" y="179.30" width="14.87" height="13.38" fill="#f9eef4"/>
<text x="333.03" y="187.85" font-size="4.9" fill="#262626" stroke="#262626" stroke-width="0.11" text-anchor="middle">0.77</text>
<rect x="341.36" y="179.30" width="14.87" height="13.38" fill="#fce5f1"/>
<text x="348.80" y="187.85" font-size="4.9" fill="#262626" stroke="#262626" stroke-width="0.11" text-anchor="middle">0.79</text>
<rect x="357.13" y="179.30" width="14.87" height="13.38" fill="#f9eef4"/>
<text x="364.56" y="187.85" font-size="4.9" fill="#262626" stroke="#262626" stroke-width="0.11" text-anchor="middle">0.77</text>
<rect x="372.90" y="179.30" width="14.87" height="13.38" fill="#e6f5d0"/>
<text x="380.34" y="187.85" font-size="4.9" fill="#262626" stroke="#262626" stroke-width="0.11" text-anchor="middle">0.70</text>
<rect x="388.67" y="179.30" width="14.87" height="13.38" fill="#75b43b"/>
<text x="396.11" y="187.85" font-size="4.9" fill="#ffffff" stroke="#ffffff" stroke-width="0.11" text-anchor="middle">0.59</text>
<rect x="404.44" y="179.30" width="14.87" height="13.38" fill="#3d7f1e"/>
<text x="411.88" y="187.85" font-size="4.9" fill="#ffffff" stroke="#ffffff" stroke-width="0.11" text-anchor="middle">0.53</text>
<rect x="420.21" y="179.30" width="14.87" height="13.38" fill="#569927"/>
<text x="427.64" y="187.85" font-size="4.9" fill="#ffffff" stroke="#ffffff" stroke-width="0.11" text-anchor="middle">0.56</text>
<rect x="435.98" y="179.30" width="14.87" height="13.38" fill="#edf6df"/>
<text x="443.42" y="187.85" font-size="4.9" fill="#262626" stroke="#262626" stroke-width="0.11" text-anchor="middle">0.72</text>
<rect x="451.75" y="179.30" width="14.87" height="13.38" fill="#f3bdde"/>
<text x="459.19" y="187.85" font-size="4.9" fill="#262626" stroke="#262626" stroke-width="0.11" text-anchor="middle">0.84</text>
<text x="468.47" y="188.04" font-size="6.8" fill="#1c1c1c" stroke="#1c1c1c" stroke-width="0.20" text-anchor="start">HH4</text>
<rect x="294.05" y="193.58" width="14.87" height="13.38" fill="#8ac34f"/>
<text x="301.49" y="202.13" font-size="4.9" fill="#262626" stroke="#262626" stroke-width="0.11" text-anchor="middle">0.61</text>
<rect x="309.82" y="193.58" width="14.87" height="13.38" fill="#acd977"/>
<text x="317.25" y="202.13" font-size="4.9" fill="#262626" stroke="#262626" stroke-width="0.11" text-anchor="middle">0.64</text>
<rect x="325.59" y="193.58" width="14.87" height="13.38" fill="#b7e085"/>
<text x="333.03" y="202.13" font-size="4.9" fill="#262626" stroke="#262626" stroke-width="0.11" text-anchor="middle">0.65</text>
<rect x="341.36" y="193.58" width="14.87" height="13.38" fill="#f0f6e7"/>
<text x="348.80" y="202.13" font-size="4.9" fill="#262626" stroke="#262626" stroke-width="0.11" text-anchor="middle">0.73</text>
<rect x="357.13" y="193.58" width="14.87" height="13.38" fill="#fde0ef"/>
<text x="364.56" y="202.13" font-size="4.9" fill="#262626" stroke="#262626" stroke-width="0.11" text-anchor="middle">0.80</text>
<rect x="372.90" y="193.58" width="14.87" height="13.38" fill="#f7f7f7"/>
<text x="380.34" y="202.13" font-size="4.9" fill="#262626" stroke="#262626" stroke-width="0.11" text-anchor="middle">0.75</text>
<rect x="388.67" y="193.58" width="14.87" height="13.38" fill="#b7e085"/>
<text x="396.11" y="202.13" font-size="4.9" fill="#262626" stroke="#262626" stroke-width="0.11" text-anchor="middle">0.65</text>
<rect x="404.44" y="193.58" width="14.87" height="13.38" fill="#60a22d"/>
<text x="411.88" y="202.13" font-size="4.9" fill="#ffffff" stroke="#ffffff" stroke-width="0.11" text-anchor="middle">0.57</text>
<rect x="420.21" y="193.58" width="14.87" height="13.38" fill="#569927"/>
<text x="427.64" y="202.13" font-size="4.9" fill="#ffffff" stroke="#ffffff" stroke-width="0.11" text-anchor="middle">0.56</text>
<rect x="435.98" y="193.58" width="14.87" height="13.38" fill="#c0e593"/>
<text x="443.42" y="202.13" font-size="4.9" fill="#262626" stroke="#262626" stroke-width="0.11" text-anchor="middle">0.66</text>
<rect x="451.75" y="193.58" width="14.87" height="13.38" fill="#ddf1c1"/>
<text x="459.19" y="202.13" font-size="4.9" fill="#262626" stroke="#262626" stroke-width="0.11" text-anchor="middle">0.69</text>
<rect x="467.52" y="193.58" width="14.87" height="13.38" fill="#f3bdde"/>
<text x="474.96" y="202.13" font-size="4.9" fill="#262626" stroke="#262626" stroke-width="0.11" text-anchor="middle">0.84</text>
<text x="484.24" y="202.32" font-size="6.8" fill="#1c1c1c" stroke="#1c1c1c" stroke-width="0.20" text-anchor="start">HH5</text>
<rect x="294.05" y="207.86" width="14.87" height="13.38" fill="#60a22d"/>
<text x="301.49" y="216.41" font-size="4.9" fill="#ffffff" stroke="#ffffff" stroke-width="0.11" text-anchor="middle">0.57</text>
<rect x="309.82" y="207.86" width="14.87" height="13.38" fill="#60a22d"/>
<text x="317.25" y="216.41" font-size="4.9" fill="#ffffff" stroke="#ffffff" stroke-width="0.11" text-anchor="middle">0.57</text>
<rect x="325.59" y="207.86" width="14.87" height="13.38" fill="#4c9121"/>
<text x="333.03" y="216.41" font-size="4.9" fill="#ffffff" stroke="#ffffff" stroke-width="0.11" text-anchor="middle">0.55</text>
<rect x="341.36" y="207.86" width="14.87" height="13.38" fill="#a1d26a"/>
<text x="348.80" y="216.41" font-size="4.9" fill="#262626" stroke="#262626" stroke-width="0.11" text-anchor="middle">0.63</text>
<rect x="357.13" y="207.86" width="14.87" height="13.38" fill="#edf6df"/>
<text x="364.56" y="216.41" font-size="4.9" fill="#262626" stroke="#262626" stroke-width="0.11" text-anchor="middle">0.72</text>
<rect x="372.90" y="207.86" width="14.87" height="13.38" fill="#f0f6e7"/>
<text x="380.34" y="216.41" font-size="4.9" fill="#262626" stroke="#262626" stroke-width="0.11" text-anchor="middle">0.73</text>
<rect x="388.67" y="207.86" width="14.87" height="13.38" fill="#d4edb3"/>
<text x="396.11" y="216.41" font-size="4.9" fill="#262626" stroke="#262626" stroke-width="0.11" text-anchor="middle">0.68</text>
<rect x="404.44" y="207.86" width="14.87" height="13.38" fill="#95cb5c"/>
<text x="411.88" y="216.41" font-size="4.9" fill="#262626" stroke="#262626" stroke-width="0.11" text-anchor="middle">0.62</text>
<rect x="420.21" y="207.86" width="14.87" height="13.38" fill="#569927"/>
<text x="427.64" y="216.41" font-size="4.9" fill="#ffffff" stroke="#ffffff" stroke-width="0.11" text-anchor="middle">0.56</text>
<rect x="435.98" y="207.86" width="14.87" height="13.38" fill="#95cb5c"/>
<text x="443.42" y="216.41" font-size="4.9" fill="#262626" stroke="#262626" stroke-width="0.11" text-anchor="middle">0.62</text>
<rect x="451.75" y="207.86" width="14.87" height="13.38" fill="#60a22d"/>
<text x="459.19" y="216.41" font-size="4.9" fill="#ffffff" stroke="#ffffff" stroke-width="0.11" text-anchor="middle">0.57</text>
<rect x="467.52" y="207.86" width="14.87" height="13.38" fill="#d4edb3"/>
<text x="474.96" y="216.41" font-size="4.9" fill="#262626" stroke="#262626" stroke-width="0.11" text-anchor="middle">0.68</text>
<rect x="483.29" y="207.86" width="14.87" height="13.38" fill="#f8d0e7"/>
<text x="490.73" y="216.41" font-size="4.9" fill="#262626" stroke="#262626" stroke-width="0.11" text-anchor="middle">0.82</text>
<text x="500.01" y="216.60" font-size="6.8" fill="#1c1c1c" stroke="#1c1c1c" stroke-width="0.20" text-anchor="start">HH6</text>
<rect x="294.05" y="222.14" width="14.87" height="13.38" fill="#3d7f1e"/>
<text x="301.49" y="230.69" font-size="4.9" fill="#ffffff" stroke="#ffffff" stroke-width="0.11" text-anchor="middle">0.53</text>
<rect x="309.82" y="222.14" width="14.87" height="13.38" fill="#36761c"/>
<text x="317.25" y="230.69" font-size="4.9" fill="#ffffff" stroke="#ffffff" stroke-width="0.11" text-anchor="middle">0.52</text>
<rect x="325.59" y="222.14" width="14.87" height="13.38" fill="#276419"/>
<text x="333.03" y="230.69" font-size="4.9" fill="#ffffff" stroke="#ffffff" stroke-width="0.11" text-anchor="middle">0.49</text>
<rect x="341.36" y="222.14" width="14.87" height="13.38" fill="#3d7f1e"/>
<text x="348.80" y="230.69" font-size="4.9" fill="#ffffff" stroke="#ffffff" stroke-width="0.11" text-anchor="middle">0.53</text>
<rect x="357.13" y="222.14" width="14.87" height="13.38" fill="#83bf46"/>
<text x="364.56" y="230.69" font-size="4.9" fill="#262626" stroke="#262626" stroke-width="0.11" text-anchor="middle">0.60</text>
<rect x="372.90" y="222.14" width="14.87" height="13.38" fill="#b7e085"/>
<text x="380.34" y="230.69" font-size="4.9" fill="#262626" stroke="#262626" stroke-width="0.11" text-anchor="middle">0.65</text>
<rect x="388.67" y="222.14" width="14.87" height="13.38" fill="#e9f5d8"/>
<text x="396.11" y="230.69" font-size="4.9" fill="#262626" stroke="#262626" stroke-width="0.11" text-anchor="middle">0.71</text>
<rect x="404.44" y="222.14" width="14.87" height="13.38" fill="#ddf1c1"/>
<text x="411.88" y="230.69" font-size="4.9" fill="#262626" stroke="#262626" stroke-width="0.11" text-anchor="middle">0.69</text>
<rect x="420.21" y="222.14" width="14.87" height="13.38" fill="#569927"/>
<text x="427.64" y="230.69" font-size="4.9" fill="#ffffff" stroke="#ffffff" stroke-width="0.11" text-anchor="middle">0.56</text>
<rect x="435.98" y="222.14" width="14.87" height="13.38" fill="#69aa33"/>
<text x="443.42" y="230.69" font-size="4.9" fill="#ffffff" stroke="#ffffff" stroke-width="0.11" text-anchor="middle">0.58</text>
<rect x="451.75" y="222.14" width="14.87" height="13.38" fill="#3d7f1e"/>
<text x="459.19" y="230.69" font-size="4.9" fill="#ffffff" stroke="#ffffff" stroke-width="0.11" text-anchor="middle">0.53</text>
<rect x="467.52" y="222.14" width="14.87" height="13.38" fill="#569927"/>
<text x="474.96" y="230.69" font-size="4.9" fill="#ffffff" stroke="#ffffff" stroke-width="0.11" text-anchor="middle">0.56</text>
<rect x="483.29" y="222.14" width="14.87" height="13.38" fill="#c0e593"/>
<text x="490.73" y="230.69" font-size="4.9" fill="#262626" stroke="#262626" stroke-width="0.11" text-anchor="middle">0.66</text>
<rect x="499.06" y="222.14" width="14.87" height="13.38" fill="#f3f7ef"/>
<text x="506.50" y="230.69" font-size="4.9" fill="#262626" stroke="#262626" stroke-width="0.11" text-anchor="middle">0.74</text>
<text x="515.78" y="230.88" font-size="6.8" fill="#1c1c1c" stroke="#1c1c1c" stroke-width="0.20" text-anchor="start">HH7</text>
<rect x="294.05" y="236.42" width="14.87" height="13.38" fill="#2e6d1b"/>
<text x="301.49" y="244.97" font-size="4.9" fill="#ffffff" stroke="#ffffff" stroke-width="0.11" text-anchor="middle">0.51</text>
<rect x="309.82" y="236.42" width="14.87" height="13.38" fill="#276419"/>
<text x="317.25" y="244.97" font-size="4.9" fill="#ffffff" stroke="#ffffff" stroke-width="0.11" text-anchor="middle">0.49</text>
<rect x="325.59" y="236.42" width="14.87" height="13.38" fill="#276419"/>
<text x="333.03" y="244.97" font-size="4.9" fill="#ffffff" stroke="#ffffff" stroke-width="0.11" text-anchor="middle">0.44</text>
<rect x="341.36" y="236.42" width="14.87" height="13.38" fill="#276419"/>
<text x="348.80" y="244.97" font-size="4.9" fill="#ffffff" stroke="#ffffff" stroke-width="0.11" text-anchor="middle">0.45</text>
<rect x="357.13" y="236.42" width="14.87" height="13.38" fill="#276419"/>
<text x="364.56" y="244.97" font-size="4.9" fill="#ffffff" stroke="#ffffff" stroke-width="0.11" text-anchor="middle">0.50</text>
<rect x="372.90" y="236.42" width="14.87" height="13.38" fill="#569927"/>
<text x="380.34" y="244.97" font-size="4.9" fill="#ffffff" stroke="#ffffff" stroke-width="0.11" text-anchor="middle">0.56</text>
<rect x="388.67" y="236.42" width="14.87" height="13.38" fill="#a1d26a"/>
<text x="396.11" y="244.97" font-size="4.9" fill="#262626" stroke="#262626" stroke-width="0.11" text-anchor="middle">0.63</text>
<rect x="404.44" y="236.42" width="14.87" height="13.38" fill="#c0e593"/>
<text x="411.88" y="244.97" font-size="4.9" fill="#262626" stroke="#262626" stroke-width="0.11" text-anchor="middle">0.66</text>
<rect x="420.21" y="236.42" width="14.87" height="13.38" fill="#60a22d"/>
<text x="427.64" y="244.97" font-size="4.9" fill="#ffffff" stroke="#ffffff" stroke-width="0.11" text-anchor="middle">0.57</text>
<rect x="435.98" y="236.42" width="14.87" height="13.38" fill="#569927"/>
<text x="443.42" y="244.97" font-size="4.9" fill="#ffffff" stroke="#ffffff" stroke-width="0.11" text-anchor="middle">0.56</text>
<rect x="451.75" y="236.42" width="14.87" height="13.38" fill="#276419"/>
<text x="459.19" y="244.97" font-size="4.9" fill="#ffffff" stroke="#ffffff" stroke-width="0.11" text-anchor="middle">0.49</text>
<rect x="467.52" y="236.42" width="14.87" height="13.38" fill="#276419"/>
<text x="474.96" y="244.97" font-size="4.9" fill="#ffffff" stroke="#ffffff" stroke-width="0.11" text-anchor="middle">0.49</text>
<rect x="483.29" y="236.42" width="14.87" height="13.38" fill="#4c9121"/>
<text x="490.73" y="244.97" font-size="4.9" fill="#ffffff" stroke="#ffffff" stroke-width="0.11" text-anchor="middle">0.55</text>
<rect x="499.06" y="236.42" width="14.87" height="13.38" fill="#a1d26a"/>
<text x="506.50" y="244.97" font-size="4.9" fill="#262626" stroke="#262626" stroke-width="0.11" text-anchor="middle">0.63</text>
<rect x="514.83" y="236.42" width="14.87" height="13.38" fill="#f0f6e7"/>
<text x="522.26" y="244.97" font-size="4.9" fill="#262626" stroke="#262626" stroke-width="0.11" text-anchor="middle">0.73</text>
<text x="531.55" y="245.16" font-size="6.8" fill="#1c1c1c" stroke="#1c1c1c" stroke-width="0.20" text-anchor="start">HH8</text>
<defs><linearGradient id="cb1" x1="0" y1="0" x2="0" y2="1"><stop offset="0.000" stop-color="#8e0152"/><stop offset="0.050" stop-color="#a80d66"/><stop offset="0.100" stop-color="#c41a7c"/><stop offset="0.150" stop-color="#d14895"/><stop offset="0.200" stop-color="#de77ae"/><stop offset="0.250" stop-color="#e795c3"/><stop offset="0.300" stop-color="#f1b5d9"/><stop offset="0.350" stop-color="#f7cbe4"/><stop offset="0.400" stop-color="#fde0ef"/><stop offset="0.450" stop-color="#faecf3"/><stop offset="0.500" stop-color="#f7f7f7"/><stop offset="0.550" stop-color="#eff6e4"/><stop offset="0.600" stop-color="#e6f5d0"/><stop offset="0.650" stop-color="#cfebaa"/><stop offset="0.700" stop-color="#b7e085"/><stop offset="0.750" stop-color="#9ccf64"/><stop offset="0.800" stop-color="#7fbc41"/><stop offset="0.850" stop-color="#66a731"/><stop offset="0.900" stop-color="#4c9121"/><stop offset="0.950" stop-color="#397a1d"/><stop offset="1.000" stop-color="#276419"/></linearGradient></defs>
<rect x="515.60" y="25.0" width="8.2" height="153.0" fill="url(#cb1)"/>
<line x1="523.80" y1="25.00" x2="528.10" y2="25.00" stroke="#000" stroke-width="1.05"/>
<text x="533.50" y="28.31" font-size="9.6" fill="#1a1a1a" stroke="#1a1a1a" stroke-width="0.25" text-anchor="start">1.0</text>
<line x1="523.80" y1="55.60" x2="528.10" y2="55.60" stroke="#000" stroke-width="1.05"/>
<text x="533.50" y="58.91" font-size="9.6" fill="#1a1a1a" stroke="#1a1a1a" stroke-width="0.25" text-anchor="start">0.9</text>
<line x1="523.80" y1="86.20" x2="528.10" y2="86.20" stroke="#000" stroke-width="1.05"/>
<text x="533.50" y="89.51" font-size="9.6" fill="#1a1a1a" stroke="#1a1a1a" stroke-width="0.25" text-anchor="start">0.8</text>
<line x1="523.80" y1="116.80" x2="528.10" y2="116.80" stroke="#000" stroke-width="1.05"/>
<text x="533.50" y="120.11" font-size="9.6" fill="#1a1a1a" stroke="#1a1a1a" stroke-width="0.25" text-anchor="start">0.7</text>
<line x1="523.80" y1="147.40" x2="528.10" y2="147.40" stroke="#000" stroke-width="1.05"/>
<text x="533.50" y="150.71" font-size="9.6" fill="#1a1a1a" stroke="#1a1a1a" stroke-width="0.25" text-anchor="start">0.6</text>
<line x1="523.80" y1="178.00" x2="528.10" y2="178.00" stroke="#000" stroke-width="1.05"/>
<text x="533.50" y="181.31" font-size="9.6" fill="#1a1a1a" stroke="#1a1a1a" stroke-width="0.25" text-anchor="start">0.5</text>
</g>
<g class="bp">
<line x1="48.60" y1="293" x2="48.60" y2="355.4" stroke="#e6e6e6" stroke-width="0.45"/>
<line x1="80.60" y1="293" x2="80.60" y2="355.4" stroke="#e6e6e6" stroke-width="0.45"/>
<line x1="112.60" y1="293" x2="112.60" y2="355.4" stroke="#e6e6e6" stroke-width="0.45"/>
<line x1="144.60" y1="293" x2="144.60" y2="355.4" stroke="#e6e6e6" stroke-width="0.45"/>
<line x1="176.60" y1="293" x2="176.60" y2="355.4" stroke="#e6e6e6" stroke-width="0.45"/>
<line x1="208.60" y1="293" x2="208.60" y2="355.4" stroke="#e6e6e6" stroke-width="0.45"/>
<line x1="40" y1="298.88" x2="220" y2="298.88" stroke="#e6e6e6" stroke-width="0.45"/>
<line x1="40" y1="314.43" x2="220" y2="314.43" stroke="#e6e6e6" stroke-width="0.45"/>
<line x1="40" y1="329.97" x2="220" y2="329.97" stroke="#e6e6e6" stroke-width="0.45"/>
<line x1="40" y1="345.52" x2="220" y2="345.52" stroke="#e6e6e6" stroke-width="0.45"/>
<line x1="64.60" y1="293" x2="64.60" y2="355.4" stroke="#dedede" stroke-width="0.7"/>
<line x1="96.60" y1="293" x2="96.60" y2="355.4" stroke="#dedede" stroke-width="0.7"/>
<line x1="128.60" y1="293" x2="128.60" y2="355.4" stroke="#dedede" stroke-width="0.7"/>
<line x1="160.60" y1="293" x2="160.60" y2="355.4" stroke="#dedede" stroke-width="0.7"/>
<line x1="192.60" y1="293" x2="192.60" y2="355.4" stroke="#dedede" stroke-width="0.7"/>
<line x1="40" y1="306.65" x2="220" y2="306.65" stroke="#dedede" stroke-width="0.7"/>
<line x1="40" y1="322.20" x2="220" y2="322.20" stroke="#dedede" stroke-width="0.7"/>
<line x1="40" y1="337.75" x2="220" y2="337.75" stroke="#dedede" stroke-width="0.7"/>
<line x1="40" y1="353.30" x2="220" y2="353.30" stroke="#dedede" stroke-width="0.7"/>
<rect x="64.00" y="355.90" width="1.2" height="1.3" fill="#111"/>
<text x="64.60" y="362.26" font-size="4.9" fill="#4d4d4d" stroke="#4d4d4d" stroke-width="0.05" text-anchor="middle">−0.10</text>
<rect x="96.00" y="355.90" width="1.2" height="1.3" fill="#111"/>
<text x="96.60" y="362.26" font-size="4.9" fill="#4d4d4d" stroke="#4d4d4d" stroke-width="0.05" text-anchor="middle">−0.05</text>
<rect x="128.00" y="355.90" width="1.2" height="1.3" fill="#111"/>
<text x="128.60" y="362.26" font-size="4.9" fill="#4d4d4d" stroke="#4d4d4d" stroke-width="0.05" text-anchor="middle">0.00</text>
<rect x="160.00" y="355.90" width="1.2" height="1.3" fill="#111"/>
<text x="160.60" y="362.26" font-size="4.9" fill="#4d4d4d" stroke="#4d4d4d" stroke-width="0.05" text-anchor="middle">0.05</text>
<rect x="192.00" y="355.90" width="1.2" height="1.3" fill="#111"/>
<text x="192.60" y="362.26" font-size="4.9" fill="#4d4d4d" stroke="#4d4d4d" stroke-width="0.05" text-anchor="middle">0.10</text>
<rect x="38.00" y="306.05" width="1.3" height="1.2" fill="#111"/>
<text x="37.20" y="308.41" font-size="4.9" fill="#4d4d4d" stroke="#4d4d4d" stroke-width="0.05" text-anchor="end">0.05</text>
<rect x="38.00" y="321.60" width="1.3" height="1.2" fill="#111"/>
<text x="37.20" y="323.96" font-size="4.9" fill="#4d4d4d" stroke="#4d4d4d" stroke-width="0.05" text-anchor="end">0.00</text>
<rect x="38.00" y="337.15" width="1.3" height="1.2" fill="#111"/>
<text x="37.20" y="339.51" font-size="4.9" fill="#4d4d4d" stroke="#4d4d4d" stroke-width="0.05" text-anchor="end">−0.05</text>
<rect x="38.00" y="352.70" width="1.3" height="1.2" fill="#111"/>
<text x="37.20" y="355.06" font-size="4.9" fill="#4d4d4d" stroke="#4d4d4d" stroke-width="0.05" text-anchor="end">−0.10</text>
<text x="130.00" y="369.10" font-size="6.1" fill="#222" stroke="#222" stroke-width="0.13" text-anchor="middle">PC1 (59.1% )</text>
<text transform="translate(19.60,325.50) rotate(-90)" x="0" y="2.20" font-size="6.1" fill="#222" stroke="#222" stroke-width="0.13" text-anchor="middle">PC2 (28.3%)</text>
<line x1="128.60" y1="322.20" x2="171.12" y2="297.32" stroke="#5e00eb" stroke-width="1.5"/>
<polygon points="173.80,295.75 171.65,299.21 169.73,295.93" fill="#5e00eb" stroke="#5e00eb" stroke-width="1" stroke-linejoin="round"/>
<line x1="128.60" y1="322.20" x2="192.26" y2="311.24" stroke="#5200f0" stroke-width="1.5"/>
<polygon points="195.31,310.72 192.08,313.20 191.44,309.46" fill="#5200f0" stroke="#5200f0" stroke-width="1" stroke-linejoin="round"/>
<line x1="128.60" y1="322.20" x2="208.70" y2="325.45" stroke="#ff0000" stroke-width="1.5"/>
<polygon points="211.80,325.57 208.13,327.32 208.28,323.53" fill="#ff0000" stroke="#ff0000" stroke-width="1" stroke-linejoin="round"/>
<line x1="128.60" y1="322.20" x2="187.08" y2="346.16" stroke="#f1003a" stroke-width="1.5"/>
<polygon points="189.95,347.33 185.90,347.73 187.34,344.21" fill="#f1003a" stroke="#f1003a" stroke-width="1" stroke-linejoin="round"/>
<line x1="128.60" y1="322.20" x2="139.75" y2="349.29" stroke="#240fb1" stroke-width="1.5"/>
<polygon points="140.93,352.15 137.81,349.55 141.32,348.10" fill="#240fb1" stroke="#240fb1" stroke-width="1" stroke-linejoin="round"/>
<line x1="128.60" y1="322.20" x2="105.43" y2="342.96" stroke="#000000" stroke-width="1.5"/>
<polygon points="103.12,345.03 104.53,341.22 107.07,344.05" fill="#000000" stroke="#000000" stroke-width="1" stroke-linejoin="round"/>
<line x1="128.60" y1="322.20" x2="75.16" y2="330.05" stroke="#21105a" stroke-width="1.5"/>
<polygon points="72.09,330.50 75.38,328.10 75.93,331.86" fill="#21105a" stroke="#21105a" stroke-width="1" stroke-linejoin="round"/>
<line x1="128.60" y1="322.20" x2="51.27" y2="312.86" stroke="#ff0000" stroke-width="1.5"/>
<polygon points="48.19,312.48 52.00,311.03 51.54,314.80" fill="#ff0000" stroke="#ff0000" stroke-width="1" stroke-linejoin="round"/>
<text x="177.00" y="300.76" font-size="6.0" fill="#5e00eb" stroke="#5e00eb" stroke-width="0.13" text-anchor="start">VV1</text>
<text x="198.00" y="309.96" font-size="6.0" fill="#5200f0" stroke="#5200f0" stroke-width="0.13" text-anchor="start">VV2</text>
<text x="207.00" y="323.16" font-size="6.0" fill="#ff0000" stroke="#ff0000" stroke-width="0.13" text-anchor="start">VV3</text>
<text x="193.40" y="347.36" font-size="6.0" fill="#f1003a" stroke="#f1003a" stroke-width="0.13" text-anchor="start">VV4</text>
<text x="144.40" y="352.36" font-size="6.0" fill="#240fb1" stroke="#240fb1" stroke-width="0.13" text-anchor="start">VV5</text>
<text x="89.40" y="350.36" font-size="6.0" fill="#000000" stroke="#000000" stroke-width="0.13" text-anchor="start">VV6</text>
<text x="58.00" y="335.96" font-size="6.0" fill="#21105a" stroke="#21105a" stroke-width="0.13" text-anchor="start">VV7</text>
<text x="41.50" y="319.66" font-size="6.0" fill="#ff0000" stroke="#ff0000" stroke-width="0.13" text-anchor="start">VV8</text>
<line x1="39.50" y1="322.20" x2="220" y2="322.20" stroke="#000" stroke-width="1.5" stroke-dasharray="6.1 5.95"/>
<line x1="128.60" y1="356.00" x2="128.60" y2="293" stroke="#000" stroke-width="1.5" stroke-dasharray="6.1 5.95"/>
<rect x="228.6" y="305.00" width="9.60" height="1.47" fill="#fd000f"/>
<rect x="228.6" y="306.17" width="9.60" height="1.47" fill="#f90023"/>
<rect x="228.6" y="307.33" width="9.60" height="1.47" fill="#f40031"/>
<rect x="228.6" y="308.50" width="9.60" height="1.47" fill="#ef003e"/>
<rect x="228.6" y="309.66" width="9.60" height="1.47" fill="#eb004a"/>
<rect x="228.6" y="310.82" width="9.60" height="1.47" fill="#e50055"/>
<rect x="228.6" y="311.99" width="9.60" height="1.47" fill="#e00061"/>
<rect x="228.6" y="313.16" width="9.60" height="1.47" fill="#da006c"/>
<rect x="228.6" y="314.32" width="9.60" height="1.47" fill="#d40077"/>
<rect x="228.6" y="315.49" width="9.60" height="1.47" fill="#cd0083"/>
<rect x="228.6" y="316.65" width="9.60" height="1.47" fill="#c6008e"/>
<rect x="228.6" y="317.81" width="9.60" height="1.47" fill="#be009a"/>
<rect x="228.6" y="318.98" width="9.60" height="1.47" fill="#b500a5"/>
<rect x="228.6" y="320.14" width="9.60" height="1.47" fill="#ab00b1"/>
<rect x="228.6" y="321.31" width="9.60" height="1.47" fill="#a000bd"/>
<rect x="228.6" y="322.48" width="9.60" height="1.47" fill="#9400c8"/>
<rect x="228.6" y="323.64" width="9.60" height="1.47" fill="#8500d4"/>
<rect x="228.6" y="324.81" width="9.60" height="1.47" fill="#7300e0"/>
<rect x="228.6" y="325.97" width="9.60" height="1.47" fill="#5b00ed"/>
<rect x="228.6" y="327.13" width="9.60" height="1.47" fill="#3500f9"/>
<rect x="228.6" y="328.30" width="9.60" height="1.47" fill="#0802f8"/>
<rect x="228.6" y="329.47" width="9.60" height="1.47" fill="#1406ea"/>
<rect x="228.6" y="330.63" width="9.60" height="1.47" fill="#1a09db"/>
<rect x="228.6" y="331.80" width="9.60" height="1.47" fill="#1f0bce"/>
<rect x="228.6" y="332.96" width="9.60" height="1.47" fill="#220dc0"/>
<rect x="228.6" y="334.12" width="9.60" height="1.47" fill="#240fb2"/>
<rect x="228.6" y="335.29" width="9.60" height="1.47" fill="#2510a5"/>
<rect x="228.6" y="336.46" width="9.60" height="1.47" fill="#251098"/>
<rect x="228.6" y="337.62" width="9.60" height="1.47" fill="#25118b"/>
<rect x="228.6" y="338.79" width="9.60" height="1.47" fill="#25117e"/>
<rect x="228.6" y="339.95" width="9.60" height="1.47" fill="#241171"/>
<rect x="228.6" y="341.12" width="9.60" height="1.47" fill="#221165"/>
<rect x="228.6" y="342.28" width="9.60" height="1.47" fill="#211059"/>
<rect x="228.6" y="343.44" width="9.60" height="1.47" fill="#1f104d"/>
<rect x="228.6" y="344.61" width="9.60" height="1.47" fill="#1c0f42"/>
<rect x="228.6" y="345.78" width="9.60" height="1.47" fill="#1a0e36"/>
<rect x="228.6" y="346.94" width="9.60" height="1.47" fill="#170c2c"/>
<rect x="228.6" y="348.11" width="9.60" height="1.47" fill="#140821"/>
<rect x="228.6" y="349.27" width="9.60" height="1.47" fill="#0e0517"/>
<rect x="228.6" y="350.44" width="9.60" height="1.47" fill="#05020a"/>
<rect x="228.6" y="313.85" width="2" height="0.7" fill="#fff"/>
<rect x="236.20" y="313.85" width="2" height="0.7" fill="#fff"/>
<text x="241.00" y="315.96" font-size="4.9" fill="#222" stroke="#222" stroke-width="0.11" text-anchor="start">0.0150</text>
<rect x="228.6" y="325.75" width="2" height="0.7" fill="#fff"/>
<rect x="236.20" y="325.75" width="2" height="0.7" fill="#fff"/>
<text x="241.00" y="327.86" font-size="4.9" fill="#222" stroke="#222" stroke-width="0.11" text-anchor="start">0.0125</text>
<rect x="228.6" y="337.55" width="2" height="0.7" fill="#fff"/>
<rect x="236.20" y="337.55" width="2" height="0.7" fill="#fff"/>
<text x="241.00" y="339.66" font-size="4.9" fill="#222" stroke="#222" stroke-width="0.11" text-anchor="start">0.0100</text>
<rect x="228.6" y="349.35" width="2" height="0.7" fill="#fff"/>
<rect x="236.20" y="349.35" width="2" height="0.7" fill="#fff"/>
<text x="241.00" y="351.46" font-size="4.9" fill="#222" stroke="#222" stroke-width="0.11" text-anchor="start">0.0075</text>
</g>
<g class="bp">
<line x1="47.50" y1="373.5" x2="47.50" y2="435.8" stroke="#e6e6e6" stroke-width="0.45"/>
<line x1="79.70" y1="373.5" x2="79.70" y2="435.8" stroke="#e6e6e6" stroke-width="0.45"/>
<line x1="111.90" y1="373.5" x2="111.90" y2="435.8" stroke="#e6e6e6" stroke-width="0.45"/>
<line x1="144.10" y1="373.5" x2="144.10" y2="435.8" stroke="#e6e6e6" stroke-width="0.45"/>
<line x1="176.30" y1="373.5" x2="176.30" y2="435.8" stroke="#e6e6e6" stroke-width="0.45"/>
<line x1="208.50" y1="373.5" x2="208.50" y2="435.8" stroke="#e6e6e6" stroke-width="0.45"/>
<line x1="40" y1="383.90" x2="223" y2="383.90" stroke="#e6e6e6" stroke-width="0.45"/>
<line x1="40" y1="398.90" x2="223" y2="398.90" stroke="#e6e6e6" stroke-width="0.45"/>
<line x1="40" y1="413.90" x2="223" y2="413.90" stroke="#e6e6e6" stroke-width="0.45"/>
<line x1="40" y1="428.90" x2="223" y2="428.90" stroke="#e6e6e6" stroke-width="0.45"/>
<line x1="63.60" y1="373.5" x2="63.60" y2="435.8" stroke="#dedede" stroke-width="0.7"/>
<line x1="95.80" y1="373.5" x2="95.80" y2="435.8" stroke="#dedede" stroke-width="0.7"/>
<line x1="128.00" y1="373.5" x2="128.00" y2="435.8" stroke="#dedede" stroke-width="0.7"/>
<line x1="160.20" y1="373.5" x2="160.20" y2="435.8" stroke="#dedede" stroke-width="0.7"/>
<line x1="192.40" y1="373.5" x2="192.40" y2="435.8" stroke="#dedede" stroke-width="0.7"/>
<line x1="40" y1="376.40" x2="223" y2="376.40" stroke="#dedede" stroke-width="0.7"/>
<line x1="40" y1="391.40" x2="223" y2="391.40" stroke="#dedede" stroke-width="0.7"/>
<line x1="40" y1="406.40" x2="223" y2="406.40" stroke="#dedede" stroke-width="0.7"/>
<line x1="40" y1="421.40" x2="223" y2="421.40" stroke="#dedede" stroke-width="0.7"/>
<rect x="63.00" y="436.30" width="1.2" height="1.3" fill="#111"/>
<text x="63.60" y="442.66" font-size="4.9" fill="#4d4d4d" stroke="#4d4d4d" stroke-width="0.05" text-anchor="middle">−0.10</text>
<rect x="95.20" y="436.30" width="1.2" height="1.3" fill="#111"/>
<text x="95.80" y="442.66" font-size="4.9" fill="#4d4d4d" stroke="#4d4d4d" stroke-width="0.05" text-anchor="middle">−0.05</text>
<rect x="127.40" y="436.30" width="1.2" height="1.3" fill="#111"/>
<text x="128.00" y="442.66" font-size="4.9" fill="#4d4d4d" stroke="#4d4d4d" stroke-width="0.05" text-anchor="middle">0.00</text>
<rect x="159.60" y="436.30" width="1.2" height="1.3" fill="#111"/>
<text x="160.20" y="442.66" font-size="4.9" fill="#4d4d4d" stroke="#4d4d4d" stroke-width="0.05" text-anchor="middle">0.05</text>
<rect x="191.80" y="436.30" width="1.2" height="1.3" fill="#111"/>
<text x="192.40" y="442.66" font-size="4.9" fill="#4d4d4d" stroke="#4d4d4d" stroke-width="0.05" text-anchor="middle">0.10</text>
<rect x="38.00" y="375.80" width="1.3" height="1.2" fill="#111"/>
<text x="37.20" y="378.16" font-size="4.9" fill="#4d4d4d" stroke="#4d4d4d" stroke-width="0.05" text-anchor="end">0.10</text>
<rect x="38.00" y="390.80" width="1.3" height="1.2" fill="#111"/>
<text x="37.20" y="393.16" font-size="4.9" fill="#4d4d4d" stroke="#4d4d4d" stroke-width="0.05" text-anchor="end">0.05</text>
<rect x="38.00" y="405.80" width="1.3" height="1.2" fill="#111"/>
<text x="37.20" y="408.16" font-size="4.9" fill="#4d4d4d" stroke="#4d4d4d" stroke-width="0.05" text-anchor="end">0.00</text>
<rect x="38.00" y="420.80" width="1.3" height="1.2" fill="#111"/>
<text x="37.20" y="423.16" font-size="4.9" fill="#4d4d4d" stroke="#4d4d4d" stroke-width="0.05" text-anchor="end">−0.05</text>
<text x="130.50" y="449.50" font-size="6.1" fill="#222" stroke="#222" stroke-width="0.13" text-anchor="middle">PC1 (55.6% )</text>
<text transform="translate(19.60,406.25) rotate(-90)" x="0" y="2.20" font-size="6.1" fill="#222" stroke="#222" stroke-width="0.13" text-anchor="middle">PC2 (31.2%)</text>
<line x1="128.00" y1="406.40" x2="131.15" y2="379.77" stroke="#200dc7" stroke-width="1.5"/>
<polygon points="131.52,376.70 132.98,380.49 129.21,380.05" fill="#200dc7" stroke="#200dc7" stroke-width="1" stroke-linejoin="round"/>
<line x1="128.00" y1="406.40" x2="91.53" y2="386.24" stroke="#25118c" stroke-width="1.5"/>
<polygon points="88.81,384.74 92.88,384.82 91.04,388.14" fill="#25118c" stroke="#25118c" stroke-width="1" stroke-linejoin="round"/>
<line x1="128.00" y1="406.40" x2="51.37" y2="397.06" stroke="#de0064" stroke-width="1.5"/>
<polygon points="48.29,396.68 52.10,395.23 51.64,399.01" fill="#de0064" stroke="#de0064" stroke-width="1" stroke-linejoin="round"/>
<line x1="128.00" y1="406.40" x2="51.33" y2="421.47" stroke="#ff0000" stroke-width="1.5"/>
<polygon points="48.29,422.07 51.45,419.51 52.19,423.24" fill="#ff0000" stroke="#ff0000" stroke-width="1" stroke-linejoin="round"/>
<line x1="128.00" y1="406.40" x2="96.61" y2="430.68" stroke="#1a09dd" stroke-width="1.5"/>
<polygon points="94.15,432.57 95.84,428.87 98.16,431.87" fill="#1a09dd" stroke="#1a09dd" stroke-width="1" stroke-linejoin="round"/>
<line x1="128.00" y1="406.40" x2="137.71" y2="426.00" stroke="#000000" stroke-width="1.5"/>
<polygon points="139.09,428.77 135.79,426.39 139.19,424.70" fill="#000000" stroke="#000000" stroke-width="1" stroke-linejoin="round"/>
<line x1="128.00" y1="406.40" x2="175.29" y2="416.60" stroke="#1a0f3a" stroke-width="1.5"/>
<polygon points="178.32,417.25 174.40,418.35 175.20,414.64" fill="#1a0f3a" stroke="#1a0f3a" stroke-width="1" stroke-linejoin="round"/>
<line x1="128.00" y1="406.40" x2="211.20" y2="404.68" stroke="#ff0000" stroke-width="1.5"/>
<polygon points="214.30,404.61 210.74,406.59 210.66,402.79" fill="#ff0000" stroke="#ff0000" stroke-width="1" stroke-linejoin="round"/>
<text x="134.40" y="381.16" font-size="6.0" fill="#200dc7" stroke="#200dc7" stroke-width="0.13" text-anchor="start">HH1</text>
<text x="91.40" y="383.16" font-size="6.0" fill="#25118c" stroke="#25118c" stroke-width="0.13" text-anchor="start">HH2</text>
<text x="51.00" y="395.76" font-size="6.0" fill="#de0064" stroke="#de0064" stroke-width="0.13" text-anchor="start">HH3</text>
<text x="51.00" y="421.56" font-size="6.0" fill="#ff0000" stroke="#ff0000" stroke-width="0.13" text-anchor="start">HH4</text>
<text x="96.60" y="432.36" font-size="6.0" fill="#1a09dd" stroke="#1a09dd" stroke-width="0.13" text-anchor="start">HH5</text>
<text x="124.40" y="433.56" font-size="6.0" fill="#000000" stroke="#000000" stroke-width="0.13" text-anchor="start">HH6</text>
<text x="164.00" y="422.16" font-size="6.0" fill="#1a0f3a" stroke="#1a0f3a" stroke-width="0.13" text-anchor="start">HH7</text>
<text x="200.00" y="410.16" font-size="6.0" fill="#ff0000" stroke="#ff0000" stroke-width="0.13" text-anchor="start">HH8</text>
<line x1="39.50" y1="406.40" x2="223" y2="406.40" stroke="#000" stroke-width="1.5" stroke-dasharray="6.1 5.95"/>
<line x1="128.00" y1="436.40" x2="128.00" y2="373.5" stroke="#000" stroke-width="1.5" stroke-dasharray="6.1 5.95"/>
<rect x="231.4" y="385.40" width="9.20" height="1.47" fill="#fd000f"/>
<rect x="231.4" y="386.56" width="9.20" height="1.47" fill="#f90023"/>
<rect x="231.4" y="387.73" width="9.20" height="1.47" fill="#f40031"/>
<rect x="231.4" y="388.89" width="9.20" height="1.47" fill="#ef003e"/>
<rect x="231.4" y="390.06" width="9.20" height="1.47" fill="#eb004a"/>
<rect x="231.4" y="391.22" width="9.20" height="1.47" fill="#e50055"/>
<rect x="231.4" y="392.39" width="9.20" height="1.47" fill="#e00061"/>
<rect x="231.4" y="393.56" width="9.20" height="1.47" fill="#da006c"/>
<rect x="231.4" y="394.72" width="9.20" height="1.47" fill="#d40077"/>
<rect x="231.4" y="395.88" width="9.20" height="1.47" fill="#cd0083"/>
<rect x="231.4" y="397.05" width="9.20" height="1.47" fill="#c6008e"/>
<rect x="231.4" y="398.21" width="9.20" height="1.47" fill="#be009a"/>
<rect x="231.4" y="399.38" width="9.20" height="1.47" fill="#b500a5"/>
<rect x="231.4" y="400.54" width="9.20" height="1.47" fill="#ab00b1"/>
<rect x="231.4" y="401.71" width="9.20" height="1.47" fill="#a000bd"/>
<rect x="231.4" y="402.88" width="9.20" height="1.47" fill="#9400c8"/>
<rect x="231.4" y="404.04" width="9.20" height="1.47" fill="#8500d4"/>
<rect x="231.4" y="405.20" width="9.20" height="1.47" fill="#7300e0"/>
<rect x="231.4" y="406.37" width="9.20" height="1.47" fill="#5b00ed"/>
<rect x="231.4" y="407.53" width="9.20" height="1.47" fill="#3500f9"/>
<rect x="231.4" y="408.70" width="9.20" height="1.47" fill="#0802f8"/>
<rect x="231.4" y="409.87" width="9.20" height="1.47" fill="#1406ea"/>
<rect x="231.4" y="411.03" width="9.20" height="1.47" fill="#1a09db"/>
<rect x="231.4" y="412.19" width="9.20" height="1.47" fill="#1f0bce"/>
<rect x="231.4" y="413.36" width="9.20" height="1.47" fill="#220dc0"/>
<rect x="231.4" y="414.52" width="9.20" height="1.47" fill="#240fb2"/>
<rect x="231.4" y="415.69" width="9.20" height="1.47" fill="#2510a5"/>
<rect x="231.4" y="416.86" width="9.20" height="1.47" fill="#251098"/>
<rect x="231.4" y="418.02" width="9.20" height="1.47" fill="#25118b"/>
<rect x="231.4" y="419.19" width="9.20" height="1.47" fill="#25117e"/>
<rect x="231.4" y="420.35" width="9.20" height="1.47" fill="#241171"/>
<rect x="231.4" y="421.51" width="9.20" height="1.47" fill="#221165"/>
<rect x="231.4" y="422.68" width="9.20" height="1.47" fill="#211059"/>
<rect x="231.4" y="423.84" width="9.20" height="1.47" fill="#1f104d"/>
<rect x="231.4" y="425.01" width="9.20" height="1.47" fill="#1c0f42"/>
<rect x="231.4" y="426.18" width="9.20" height="1.47" fill="#1a0e36"/>
<rect x="231.4" y="427.34" width="9.20" height="1.47" fill="#170c2c"/>
<rect x="231.4" y="428.50" width="9.20" height="1.47" fill="#140821"/>
<rect x="231.4" y="429.67" width="9.20" height="1.47" fill="#0e0517"/>
<rect x="231.4" y="430.83" width="9.20" height="1.47" fill="#05020a"/>
<rect x="231.4" y="386.65" width="2" height="0.7" fill="#fff"/>
<rect x="238.60" y="386.65" width="2" height="0.7" fill="#fff"/>
<text x="243.40" y="388.76" font-size="4.9" fill="#222" stroke="#222" stroke-width="0.11" text-anchor="start">0.018</text>
<rect x="231.4" y="398.15" width="2" height="0.7" fill="#fff"/>
<rect x="238.60" y="398.15" width="2" height="0.7" fill="#fff"/>
<text x="243.40" y="400.26" font-size="4.9" fill="#222" stroke="#222" stroke-width="0.11" text-anchor="start">0.015</text>
<rect x="231.4" y="409.85" width="2" height="0.7" fill="#fff"/>
<rect x="238.60" y="409.85" width="2" height="0.7" fill="#fff"/>
<text x="243.40" y="411.96" font-size="4.9" fill="#222" stroke="#222" stroke-width="0.11" text-anchor="start">0.012</text>
<rect x="231.4" y="421.55" width="2" height="0.7" fill="#fff"/>
<rect x="238.60" y="421.55" width="2" height="0.7" fill="#fff"/>
<text x="243.40" y="423.66" font-size="4.9" fill="#222" stroke="#222" stroke-width="0.11" text-anchor="start">0.009</text>
</g>
<g class="bp">
<line x1="59.50" y1="454" x2="59.50" y2="516.2" stroke="#e6e6e6" stroke-width="0.45"/>
<line x1="100.50" y1="454" x2="100.50" y2="516.2" stroke="#e6e6e6" stroke-width="0.45"/>
<line x1="141.50" y1="454" x2="141.50" y2="516.2" stroke="#e6e6e6" stroke-width="0.45"/>
<line x1="182.50" y1="454" x2="182.50" y2="516.2" stroke="#e6e6e6" stroke-width="0.45"/>
<line x1="37" y1="457.00" x2="223" y2="457.00" stroke="#e6e6e6" stroke-width="0.45"/>
<line x1="37" y1="471.40" x2="223" y2="471.40" stroke="#e6e6e6" stroke-width="0.45"/>
<line x1="37" y1="485.80" x2="223" y2="485.80" stroke="#e6e6e6" stroke-width="0.45"/>
<line x1="37" y1="500.20" x2="223" y2="500.20" stroke="#e6e6e6" stroke-width="0.45"/>
<line x1="37" y1="514.60" x2="223" y2="514.60" stroke="#e6e6e6" stroke-width="0.45"/>
<line x1="39.00" y1="454" x2="39.00" y2="516.2" stroke="#dedede" stroke-width="0.7"/>
<line x1="80.00" y1="454" x2="80.00" y2="516.2" stroke="#dedede" stroke-width="0.7"/>
<line x1="121.00" y1="454" x2="121.00" y2="516.2" stroke="#dedede" stroke-width="0.7"/>
<line x1="162.00" y1="454" x2="162.00" y2="516.2" stroke="#dedede" stroke-width="0.7"/>
<line x1="203.00" y1="454" x2="203.00" y2="516.2" stroke="#dedede" stroke-width="0.7"/>
<line x1="37" y1="464.20" x2="223" y2="464.20" stroke="#dedede" stroke-width="0.7"/>
<line x1="37" y1="478.60" x2="223" y2="478.60" stroke="#dedede" stroke-width="0.7"/>
<line x1="37" y1="493.00" x2="223" y2="493.00" stroke="#dedede" stroke-width="0.7"/>
<line x1="37" y1="507.40" x2="223" y2="507.40" stroke="#dedede" stroke-width="0.7"/>
<rect x="38.40" y="516.70" width="1.2" height="1.3" fill="#111"/>
<text x="39.00" y="523.06" font-size="4.9" fill="#4d4d4d" stroke="#4d4d4d" stroke-width="0.05" text-anchor="middle">−0.2</text>
<rect x="79.40" y="516.70" width="1.2" height="1.3" fill="#111"/>
<text x="80.00" y="523.06" font-size="4.9" fill="#4d4d4d" stroke="#4d4d4d" stroke-width="0.05" text-anchor="middle">−0.1</text>
<rect x="120.40" y="516.70" width="1.2" height="1.3" fill="#111"/>
<text x="121.00" y="523.06" font-size="4.9" fill="#4d4d4d" stroke="#4d4d4d" stroke-width="0.05" text-anchor="middle">0.0</text>
<rect x="161.40" y="516.70" width="1.2" height="1.3" fill="#111"/>
<text x="162.00" y="523.06" font-size="4.9" fill="#4d4d4d" stroke="#4d4d4d" stroke-width="0.05" text-anchor="middle">0.1</text>
<rect x="202.40" y="516.70" width="1.2" height="1.3" fill="#111"/>
<text x="203.00" y="523.06" font-size="4.9" fill="#4d4d4d" stroke="#4d4d4d" stroke-width="0.05" text-anchor="middle">0.2</text>
<rect x="35.00" y="463.60" width="1.3" height="1.2" fill="#111"/>
<text x="34.20" y="465.96" font-size="4.9" fill="#4d4d4d" stroke="#4d4d4d" stroke-width="0.05" text-anchor="end">0.1</text>
<rect x="35.00" y="478.00" width="1.3" height="1.2" fill="#111"/>
<text x="34.20" y="480.36" font-size="4.9" fill="#4d4d4d" stroke="#4d4d4d" stroke-width="0.05" text-anchor="end">0.0</text>
<rect x="35.00" y="492.40" width="1.3" height="1.2" fill="#111"/>
<text x="34.20" y="494.76" font-size="4.9" fill="#4d4d4d" stroke="#4d4d4d" stroke-width="0.05" text-anchor="end">−0.1</text>
<rect x="35.00" y="506.80" width="1.3" height="1.2" fill="#111"/>
<text x="34.20" y="509.16" font-size="4.9" fill="#4d4d4d" stroke="#4d4d4d" stroke-width="0.05" text-anchor="end">−0.2</text>
<text x="130.00" y="529.90" font-size="6.1" fill="#222" stroke="#222" stroke-width="0.13" text-anchor="middle">PC1 (41.2% )</text>
<text transform="translate(19.60,486.80) rotate(-90)" x="0" y="2.20" font-size="6.1" fill="#222" stroke="#222" stroke-width="0.13" text-anchor="middle">PC2 (25.5%)</text>
<line x1="121.00" y1="478.60" x2="210.63" y2="467.85" stroke="#cf007f" stroke-width="1.5"/>
<polygon points="213.70,467.48 210.36,469.80 209.90,466.03" fill="#cf007f" stroke="#cf007f" stroke-width="1" stroke-linejoin="round"/>
<line x1="121.00" y1="478.60" x2="200.22" y2="469.82" stroke="#2000fd" stroke-width="1.5"/>
<polygon points="203.30,469.48 199.94,471.76 199.52,467.99" fill="#2000fd" stroke="#2000fd" stroke-width="1" stroke-linejoin="round"/>
<line x1="121.00" y1="478.60" x2="203.27" y2="494.29" stroke="#ca0088" stroke-width="1.5"/>
<polygon points="206.31,494.87 202.42,496.06 203.13,492.33" fill="#ca0088" stroke="#ca0088" stroke-width="1" stroke-linejoin="round"/>
<line x1="121.00" y1="478.60" x2="94.62" y2="510.57" stroke="#ff0000" stroke-width="1.5"/>
<polygon points="92.65,512.96 93.47,508.97 96.40,511.39" fill="#ff0000" stroke="#ff0000" stroke-width="1" stroke-linejoin="round"/>
<line x1="121.00" y1="478.60" x2="49.38" y2="485.25" stroke="#251187" stroke-width="1.5"/>
<polygon points="46.30,485.54 49.71,483.31 50.06,487.09" fill="#251187" stroke="#251187" stroke-width="1" stroke-linejoin="round"/>
<line x1="121.00" y1="478.60" x2="55.34" y2="467.06" stroke="#251191" stroke-width="1.5"/>
<polygon points="52.29,466.52 56.16,465.27 55.51,469.02" fill="#251191" stroke="#251191" stroke-width="1" stroke-linejoin="round"/>
<line x1="121.00" y1="478.60" x2="84.49" y2="462.90" stroke="#000000" stroke-width="1.5"/>
<polygon points="81.64,461.68 85.70,461.35 84.20,464.84" fill="#000000" stroke="#000000" stroke-width="1" stroke-linejoin="round"/>
<line x1="121.00" y1="478.60" x2="105.06" y2="459.89" stroke="#000000" stroke-width="1.5"/>
<polygon points="103.05,457.53 106.83,459.04 103.94,461.51" fill="#000000" stroke="#000000" stroke-width="1" stroke-linejoin="round"/>
<text x="209.00" y="465.16" font-size="6.0" fill="#cf007f" stroke="#cf007f" stroke-width="0.13" text-anchor="start">VH1</text>
<text x="190.00" y="475.16" font-size="6.0" fill="#2000fd" stroke="#2000fd" stroke-width="0.13" text-anchor="start">VH2</text>
<text x="209.00" y="492.76" font-size="6.0" fill="#ca0088" stroke="#ca0088" stroke-width="0.13" text-anchor="start">VH3</text>
<text x="94.40" y="513.16" font-size="6.0" fill="#ff0000" stroke="#ff0000" stroke-width="0.13" text-anchor="start">VH4</text>
<text x="48.00" y="484.76" font-size="6.0" fill="#251187" stroke="#251187" stroke-width="0.13" text-anchor="start">VH5</text>
<text x="39.00" y="473.16" font-size="6.0" fill="#251191" stroke="#251191" stroke-width="0.13" text-anchor="start">VH6</text>
<text x="67.00" y="466.16" font-size="6.0" fill="#000000" stroke="#000000" stroke-width="0.13" text-anchor="start">VH7</text>
<text x="88.00" y="461.76" font-size="6.0" fill="#000000" stroke="#000000" stroke-width="0.13" text-anchor="start">VH8</text>
<line x1="36.50" y1="478.60" x2="223" y2="478.60" stroke="#000" stroke-width="1.5" stroke-dasharray="6.1 5.95"/>
<line x1="121.00" y1="516.80" x2="121.00" y2="454" stroke="#000" stroke-width="1.5" stroke-dasharray="6.1 5.95"/>
<rect x="231.4" y="466.40" width="9.20" height="1.46" fill="#fd000f"/>
<rect x="231.4" y="467.55" width="9.20" height="1.46" fill="#f90023"/>
<rect x="231.4" y="468.71" width="9.20" height="1.46" fill="#f40031"/>
<rect x="231.4" y="469.87" width="9.20" height="1.46" fill="#ef003e"/>
<rect x="231.4" y="471.02" width="9.20" height="1.46" fill="#eb004a"/>
<rect x="231.4" y="472.17" width="9.20" height="1.46" fill="#e50055"/>
<rect x="231.4" y="473.33" width="9.20" height="1.46" fill="#e00061"/>
<rect x="231.4" y="474.49" width="9.20" height="1.46" fill="#da006c"/>
<rect x="231.4" y="475.64" width="9.20" height="1.46" fill="#d40077"/>
<rect x="231.4" y="476.79" width="9.20" height="1.46" fill="#cd0083"/>
<rect x="231.4" y="477.95" width="9.20" height="1.46" fill="#c6008e"/>
<rect x="231.4" y="479.11" width="9.20" height="1.46" fill="#be009a"/>
<rect x="231.4" y="480.26" width="9.20" height="1.46" fill="#b500a5"/>
<rect x="231.4" y="481.41" width="9.20" height="1.46" fill="#ab00b1"/>
<rect x="231.4" y="482.57" width="9.20" height="1.46" fill="#a000bd"/>
<rect x="231.4" y="483.73" width="9.20" height="1.46" fill="#9400c8"/>
<rect x="231.4" y="484.88" width="9.20" height="1.46" fill="#8500d4"/>
<rect x="231.4" y="486.03" width="9.20" height="1.46" fill="#7300e0"/>
<rect x="231.4" y="487.19" width="9.20" height="1.46" fill="#5b00ed"/>
<rect x="231.4" y="488.35" width="9.20" height="1.46" fill="#3500f9"/>
<rect x="231.4" y="489.50" width="9.20" height="1.46" fill="#0802f8"/>
<rect x="231.4" y="490.65" width="9.20" height="1.46" fill="#1406ea"/>
<rect x="231.4" y="491.81" width="9.20" height="1.46" fill="#1a09db"/>
<rect x="231.4" y="492.97" width="9.20" height="1.46" fill="#1f0bce"/>
<rect x="231.4" y="494.12" width="9.20" height="1.46" fill="#220dc0"/>
<rect x="231.4" y="495.27" width="9.20" height="1.46" fill="#240fb2"/>
<rect x="231.4" y="496.43" width="9.20" height="1.46" fill="#2510a5"/>
<rect x="231.4" y="497.59" width="9.20" height="1.46" fill="#251098"/>
<rect x="231.4" y="498.74" width="9.20" height="1.46" fill="#25118b"/>
<rect x="231.4" y="499.89" width="9.20" height="1.46" fill="#25117e"/>
<rect x="231.4" y="501.05" width="9.20" height="1.46" fill="#241171"/>
<rect x="231.4" y="502.21" width="9.20" height="1.46" fill="#221165"/>
<rect x="231.4" y="503.36" width="9.20" height="1.46" fill="#211059"/>
<rect x="231.4" y="504.51" width="9.20" height="1.46" fill="#1f104d"/>
<rect x="231.4" y="505.67" width="9.20" height="1.46" fill="#1c0f42"/>
<rect x="231.4" y="506.83" width="9.20" height="1.46" fill="#1a0e36"/>
<rect x="231.4" y="507.98" width="9.20" height="1.46" fill="#170c2c"/>
<rect x="231.4" y="509.13" width="9.20" height="1.46" fill="#140821"/>
<rect x="231.4" y="510.29" width="9.20" height="1.46" fill="#0e0517"/>
<rect x="231.4" y="511.45" width="9.20" height="1.46" fill="#05020a"/>
<rect x="231.4" y="466.45" width="2" height="0.7" fill="#fff"/>
<rect x="238.60" y="466.45" width="2" height="0.7" fill="#fff"/>
<text x="243.40" y="468.56" font-size="4.9" fill="#222" stroke="#222" stroke-width="0.11" text-anchor="start">0.065</text>
<rect x="231.4" y="477.85" width="2" height="0.7" fill="#fff"/>
<rect x="238.60" y="477.85" width="2" height="0.7" fill="#fff"/>
<text x="243.40" y="479.96" font-size="4.9" fill="#222" stroke="#222" stroke-width="0.11" text-anchor="start">0.055</text>
<rect x="231.4" y="489.25" width="2" height="0.7" fill="#fff"/>
<rect x="238.60" y="489.25" width="2" height="0.7" fill="#fff"/>
<text x="243.40" y="491.36" font-size="4.9" fill="#222" stroke="#222" stroke-width="0.11" text-anchor="start">0.045</text>
<rect x="231.4" y="500.65" width="2" height="0.7" fill="#fff"/>
<rect x="238.60" y="500.65" width="2" height="0.7" fill="#fff"/>
<text x="243.40" y="502.76" font-size="4.9" fill="#222" stroke="#222" stroke-width="0.11" text-anchor="start">0.035</text>
<rect x="231.4" y="512.05" width="2" height="0.7" fill="#fff"/>
<rect x="238.60" y="512.05" width="2" height="0.7" fill="#fff"/>
<text x="243.40" y="514.16" font-size="4.9" fill="#222" stroke="#222" stroke-width="0.11" text-anchor="start">0.025</text>
</g>
<g class="bp">
<line x1="320.90" y1="293" x2="320.90" y2="355.4" stroke="#e6e6e6" stroke-width="0.45"/>
<line x1="378.30" y1="293" x2="378.30" y2="355.4" stroke="#e6e6e6" stroke-width="0.45"/>
<line x1="435.70" y1="293" x2="435.70" y2="355.4" stroke="#e6e6e6" stroke-width="0.45"/>
<line x1="493.10" y1="293" x2="493.10" y2="355.4" stroke="#e6e6e6" stroke-width="0.45"/>
<line x1="317" y1="297.50" x2="499" y2="297.50" stroke="#e6e6e6" stroke-width="0.45"/>
<line x1="317" y1="312.50" x2="499" y2="312.50" stroke="#e6e6e6" stroke-width="0.45"/>
<line x1="317" y1="327.50" x2="499" y2="327.50" stroke="#e6e6e6" stroke-width="0.45"/>
<line x1="317" y1="342.50" x2="499" y2="342.50" stroke="#e6e6e6" stroke-width="0.45"/>
<line x1="349.60" y1="293" x2="349.60" y2="355.4" stroke="#dedede" stroke-width="0.7"/>
<line x1="407.00" y1="293" x2="407.00" y2="355.4" stroke="#dedede" stroke-width="0.7"/>
<line x1="464.40" y1="293" x2="464.40" y2="355.4" stroke="#dedede" stroke-width="0.7"/>
<line x1="317" y1="305.00" x2="499" y2="305.00" stroke="#dedede" stroke-width="0.7"/>
<line x1="317" y1="320.00" x2="499" y2="320.00" stroke="#dedede" stroke-width="0.7"/>
<line x1="317" y1="335.00" x2="499" y2="335.00" stroke="#dedede" stroke-width="0.7"/>
<line x1="317" y1="350.00" x2="499" y2="350.00" stroke="#dedede" stroke-width="0.7"/>
<rect x="349.00" y="355.90" width="1.2" height="1.3" fill="#111"/>
<text x="349.60" y="362.26" font-size="4.9" fill="#4d4d4d" stroke="#4d4d4d" stroke-width="0.05" text-anchor="middle">−0.1</text>
<rect x="406.40" y="355.90" width="1.2" height="1.3" fill="#111"/>
<text x="407.00" y="362.26" font-size="4.9" fill="#4d4d4d" stroke="#4d4d4d" stroke-width="0.05" text-anchor="middle">0.0</text>
<rect x="463.80" y="355.90" width="1.2" height="1.3" fill="#111"/>
<text x="464.40" y="362.26" font-size="4.9" fill="#4d4d4d" stroke="#4d4d4d" stroke-width="0.05" text-anchor="middle">0.1</text>
<rect x="315.00" y="304.40" width="1.3" height="1.2" fill="#111"/>
<text x="314.20" y="306.76" font-size="4.9" fill="#4d4d4d" stroke="#4d4d4d" stroke-width="0.05" text-anchor="end">0.05</text>
<rect x="315.00" y="319.40" width="1.3" height="1.2" fill="#111"/>
<text x="314.20" y="321.76" font-size="4.9" fill="#4d4d4d" stroke="#4d4d4d" stroke-width="0.05" text-anchor="end">0.00</text>
<rect x="315.00" y="334.40" width="1.3" height="1.2" fill="#111"/>
<text x="314.20" y="336.76" font-size="4.9" fill="#4d4d4d" stroke="#4d4d4d" stroke-width="0.05" text-anchor="end">−0.05</text>
<rect x="315.00" y="349.40" width="1.3" height="1.2" fill="#111"/>
<text x="314.20" y="351.76" font-size="4.9" fill="#4d4d4d" stroke="#4d4d4d" stroke-width="0.05" text-anchor="end">−0.10</text>
<text x="407.60" y="369.10" font-size="6.1" fill="#222" stroke="#222" stroke-width="0.13" text-anchor="middle">PC1 (63.1% )</text>
<text transform="translate(296.60,324.50) rotate(-90)" x="0" y="2.20" font-size="6.1" fill="#222" stroke="#222" stroke-width="0.13" text-anchor="middle">PC2 (24.4%)</text>
<line x1="407.00" y1="320.00" x2="461.29" y2="297.27" stroke="#9d00c0" stroke-width="1.5"/>
<polygon points="464.15,296.07 461.57,299.21 460.10,295.71" fill="#9d00c0" stroke="#9d00c0" stroke-width="1" stroke-linejoin="round"/>
<line x1="407.00" y1="320.00" x2="474.64" y2="310.15" stroke="#8700d3" stroke-width="1.5"/>
<polygon points="477.71,309.70 474.42,312.10 473.87,308.34" fill="#8700d3" stroke="#8700d3" stroke-width="1" stroke-linejoin="round"/>
<line x1="407.00" y1="320.00" x2="487.20" y2="320.00" stroke="#ff0000" stroke-width="1.5"/>
<polygon points="490.30,320.00 486.70,321.90 486.70,318.10" fill="#ff0000" stroke="#ff0000" stroke-width="1" stroke-linejoin="round"/>
<line x1="407.00" y1="320.00" x2="468.02" y2="341.92" stroke="#d40076" stroke-width="1.5"/>
<polygon points="470.94,342.96 466.91,343.53 468.20,339.96" fill="#d40076" stroke="#d40076" stroke-width="1" stroke-linejoin="round"/>
<line x1="407.00" y1="320.00" x2="431.55" y2="349.10" stroke="#1807e2" stroke-width="1.5"/>
<polygon points="433.55,351.46 429.77,349.94 432.68,347.49" fill="#1807e2" stroke="#1807e2" stroke-width="1" stroke-linejoin="round"/>
<line x1="407.00" y1="320.00" x2="397.92" y2="344.44" stroke="#000000" stroke-width="1.5"/>
<polygon points="396.84,347.34 396.32,343.31 399.88,344.63" fill="#000000" stroke="#000000" stroke-width="1" stroke-linejoin="round"/>
<line x1="407.00" y1="320.00" x2="350.75" y2="329.00" stroke="#251191" stroke-width="1.5"/>
<polygon points="347.69,329.49 350.95,327.04 351.55,330.80" fill="#251191" stroke="#251191" stroke-width="1" stroke-linejoin="round"/>
<line x1="407.00" y1="320.00" x2="328.78" y2="312.37" stroke="#ff0000" stroke-width="1.5"/>
<polygon points="325.70,312.07 329.46,310.53 329.10,314.31" fill="#ff0000" stroke="#ff0000" stroke-width="1" stroke-linejoin="round"/>
<text x="468.60" y="302.16" font-size="6.0" fill="#9d00c0" stroke="#9d00c0" stroke-width="0.13" text-anchor="start">VV1</text>
<text x="483.60" y="309.16" font-size="6.0" fill="#8700d3" stroke="#8700d3" stroke-width="0.13" text-anchor="start">VV2</text>
<text x="486.00" y="317.56" font-size="6.0" fill="#ff0000" stroke="#ff0000" stroke-width="0.13" text-anchor="start">VV3</text>
<text x="475.00" y="342.76" font-size="6.0" fill="#d40076" stroke="#d40076" stroke-width="0.13" text-anchor="start">VV4</text>
<text x="437.00" y="352.16" font-size="6.0" fill="#1807e2" stroke="#1807e2" stroke-width="0.13" text-anchor="start">VV5</text>
<text x="383.00" y="353.16" font-size="6.0" fill="#000000" stroke="#000000" stroke-width="0.13" text-anchor="start">VV6</text>
<text x="333.00" y="335.16" font-size="6.0" fill="#251191" stroke="#251191" stroke-width="0.13" text-anchor="start">VV7</text>
<text x="318.00" y="319.16" font-size="6.0" fill="#ff0000" stroke="#ff0000" stroke-width="0.13" text-anchor="start">VV8</text>
<line x1="316.50" y1="320.00" x2="499" y2="320.00" stroke="#000" stroke-width="1.5" stroke-dasharray="6.1 5.95"/>
<line x1="407.00" y1="356.00" x2="407.00" y2="293" stroke="#000" stroke-width="1.5" stroke-dasharray="6.1 5.95"/>
<rect x="508" y="305.00" width="9.40" height="1.46" fill="#fd000f"/>
<rect x="508" y="306.16" width="9.40" height="1.46" fill="#f90023"/>
<rect x="508" y="307.32" width="9.40" height="1.46" fill="#f40031"/>
<rect x="508" y="308.48" width="9.40" height="1.46" fill="#ef003e"/>
<rect x="508" y="309.64" width="9.40" height="1.46" fill="#eb004a"/>
<rect x="508" y="310.80" width="9.40" height="1.46" fill="#e50055"/>
<rect x="508" y="311.96" width="9.40" height="1.46" fill="#e00061"/>
<rect x="508" y="313.12" width="9.40" height="1.46" fill="#da006c"/>
<rect x="508" y="314.28" width="9.40" height="1.46" fill="#d40077"/>
<rect x="508" y="315.44" width="9.40" height="1.46" fill="#cd0083"/>
<rect x="508" y="316.60" width="9.40" height="1.46" fill="#c6008e"/>
<rect x="508" y="317.76" width="9.40" height="1.46" fill="#be009a"/>
<rect x="508" y="318.92" width="9.40" height="1.46" fill="#b500a5"/>
<rect x="508" y="320.08" width="9.40" height="1.46" fill="#ab00b1"/>
<rect x="508" y="321.24" width="9.40" height="1.46" fill="#a000bd"/>
<rect x="508" y="322.40" width="9.40" height="1.46" fill="#9400c8"/>
<rect x="508" y="323.56" width="9.40" height="1.46" fill="#8500d4"/>
<rect x="508" y="324.72" width="9.40" height="1.46" fill="#7300e0"/>
<rect x="508" y="325.88" width="9.40" height="1.46" fill="#5b00ed"/>
<rect x="508" y="327.04" width="9.40" height="1.46" fill="#3500f9"/>
<rect x="508" y="328.20" width="9.40" height="1.46" fill="#0802f8"/>
<rect x="508" y="329.36" width="9.40" height="1.46" fill="#1406ea"/>
<rect x="508" y="330.52" width="9.40" height="1.46" fill="#1a09db"/>
<rect x="508" y="331.68" width="9.40" height="1.46" fill="#1f0bce"/>
<rect x="508" y="332.84" width="9.40" height="1.46" fill="#220dc0"/>
<rect x="508" y="334.00" width="9.40" height="1.46" fill="#240fb2"/>
<rect x="508" y="335.16" width="9.40" height="1.46" fill="#2510a5"/>
<rect x="508" y="336.32" width="9.40" height="1.46" fill="#251098"/>
<rect x="508" y="337.48" width="9.40" height="1.46" fill="#25118b"/>
<rect x="508" y="338.64" width="9.40" height="1.46" fill="#25117e"/>
<rect x="508" y="339.80" width="9.40" height="1.46" fill="#241171"/>
<rect x="508" y="340.96" width="9.40" height="1.46" fill="#221165"/>
<rect x="508" y="342.12" width="9.40" height="1.46" fill="#211059"/>
<rect x="508" y="343.28" width="9.40" height="1.46" fill="#1f104d"/>
<rect x="508" y="344.44" width="9.40" height="1.46" fill="#1c0f42"/>
<rect x="508" y="345.60" width="9.40" height="1.46" fill="#1a0e36"/>
<rect x="508" y="346.76" width="9.40" height="1.46" fill="#170c2c"/>
<rect x="508" y="347.92" width="9.40" height="1.46" fill="#140821"/>
<rect x="508" y="349.08" width="9.40" height="1.46" fill="#0e0517"/>
<rect x="508" y="350.24" width="9.40" height="1.46" fill="#05020a"/>
<rect x="508" y="306.25" width="2" height="0.7" fill="#fff"/>
<rect x="515.40" y="306.25" width="2" height="0.7" fill="#fff"/>
<text x="520.20" y="308.36" font-size="4.9" fill="#222" stroke="#222" stroke-width="0.11" text-anchor="start">0.021</text>
<rect x="508" y="317.65" width="2" height="0.7" fill="#fff"/>
<rect x="515.40" y="317.65" width="2" height="0.7" fill="#fff"/>
<text x="520.20" y="319.76" font-size="4.9" fill="#222" stroke="#222" stroke-width="0.11" text-anchor="start">0.018</text>
<rect x="508" y="328.85" width="2" height="0.7" fill="#fff"/>
<rect x="515.40" y="328.85" width="2" height="0.7" fill="#fff"/>
<text x="520.20" y="330.96" font-size="4.9" fill="#222" stroke="#222" stroke-width="0.11" text-anchor="start">0.015</text>
<rect x="508" y="340.15" width="2" height="0.7" fill="#fff"/>
<rect x="515.40" y="340.15" width="2" height="0.7" fill="#fff"/>
<text x="520.20" y="342.26" font-size="4.9" fill="#222" stroke="#222" stroke-width="0.11" text-anchor="start">0.012</text>
<rect x="508" y="351.25" width="2" height="0.7" fill="#fff"/>
<rect x="515.40" y="351.25" width="2" height="0.7" fill="#fff"/>
<text x="520.20" y="353.36" font-size="4.9" fill="#222" stroke="#222" stroke-width="0.11" text-anchor="start">0.009</text>
</g>
<g class="bp">
<line x1="318.40" y1="373.5" x2="318.40" y2="435.8" stroke="#e6e6e6" stroke-width="0.45"/>
<line x1="373.20" y1="373.5" x2="373.20" y2="435.8" stroke="#e6e6e6" stroke-width="0.45"/>
<line x1="428.00" y1="373.5" x2="428.00" y2="435.8" stroke="#e6e6e6" stroke-width="0.45"/>
<line x1="482.80" y1="373.5" x2="482.80" y2="435.8" stroke="#e6e6e6" stroke-width="0.45"/>
<line x1="317" y1="375.68" x2="496" y2="375.68" stroke="#e6e6e6" stroke-width="0.45"/>
<line x1="317" y1="386.93" x2="496" y2="386.93" stroke="#e6e6e6" stroke-width="0.45"/>
<line x1="317" y1="398.18" x2="496" y2="398.18" stroke="#e6e6e6" stroke-width="0.45"/>
<line x1="317" y1="409.43" x2="496" y2="409.43" stroke="#e6e6e6" stroke-width="0.45"/>
<line x1="317" y1="420.68" x2="496" y2="420.68" stroke="#e6e6e6" stroke-width="0.45"/>
<line x1="317" y1="431.93" x2="496" y2="431.93" stroke="#e6e6e6" stroke-width="0.45"/>
<line x1="345.80" y1="373.5" x2="345.80" y2="435.8" stroke="#dedede" stroke-width="0.7"/>
<line x1="400.60" y1="373.5" x2="400.60" y2="435.8" stroke="#dedede" stroke-width="0.7"/>
<line x1="455.40" y1="373.5" x2="455.40" y2="435.8" stroke="#dedede" stroke-width="0.7"/>
<line x1="317" y1="381.30" x2="496" y2="381.30" stroke="#dedede" stroke-width="0.7"/>
<line x1="317" y1="392.55" x2="496" y2="392.55" stroke="#dedede" stroke-width="0.7"/>
<line x1="317" y1="403.80" x2="496" y2="403.80" stroke="#dedede" stroke-width="0.7"/>
<line x1="317" y1="415.05" x2="496" y2="415.05" stroke="#dedede" stroke-width="0.7"/>
<line x1="317" y1="426.30" x2="496" y2="426.30" stroke="#dedede" stroke-width="0.7"/>
<rect x="345.20" y="436.30" width="1.2" height="1.3" fill="#111"/>
<text x="345.80" y="442.66" font-size="4.9" fill="#4d4d4d" stroke="#4d4d4d" stroke-width="0.05" text-anchor="middle">−0.1</text>
<rect x="400.00" y="436.30" width="1.2" height="1.3" fill="#111"/>
<text x="400.60" y="442.66" font-size="4.9" fill="#4d4d4d" stroke="#4d4d4d" stroke-width="0.05" text-anchor="middle">0.0</text>
<rect x="454.80" y="436.30" width="1.2" height="1.3" fill="#111"/>
<text x="455.40" y="442.66" font-size="4.9" fill="#4d4d4d" stroke="#4d4d4d" stroke-width="0.05" text-anchor="middle">0.1</text>
<rect x="315.00" y="380.70" width="1.3" height="1.2" fill="#111"/>
<text x="314.20" y="383.06" font-size="4.9" fill="#4d4d4d" stroke="#4d4d4d" stroke-width="0.05" text-anchor="end">0.10</text>
<rect x="315.00" y="391.95" width="1.3" height="1.2" fill="#111"/>
<text x="314.20" y="394.31" font-size="4.9" fill="#4d4d4d" stroke="#4d4d4d" stroke-width="0.05" text-anchor="end">0.05</text>
<rect x="315.00" y="403.20" width="1.3" height="1.2" fill="#111"/>
<text x="314.20" y="405.56" font-size="4.9" fill="#4d4d4d" stroke="#4d4d4d" stroke-width="0.05" text-anchor="end">0.00</text>
<rect x="315.00" y="414.45" width="1.3" height="1.2" fill="#111"/>
<text x="314.20" y="416.81" font-size="4.9" fill="#4d4d4d" stroke="#4d4d4d" stroke-width="0.05" text-anchor="end">−0.05</text>
<rect x="315.00" y="425.70" width="1.3" height="1.2" fill="#111"/>
<text x="314.20" y="428.06" font-size="4.9" fill="#4d4d4d" stroke="#4d4d4d" stroke-width="0.05" text-anchor="end">−0.10</text>
<text x="406.40" y="449.50" font-size="6.1" fill="#222" stroke="#222" stroke-width="0.13" text-anchor="middle">PC1 (51.4% )</text>
<text transform="translate(296.60,405.50) rotate(-90)" x="0" y="2.20" font-size="6.1" fill="#222" stroke="#222" stroke-width="0.13" text-anchor="middle">PC2 (32.1%)</text>
<line x1="400.60" y1="403.80" x2="426.67" y2="378.64" stroke="#200dc7" stroke-width="1.5"/>
<polygon points="428.90,376.49 427.63,380.35 424.99,377.62" fill="#200dc7" stroke="#200dc7" stroke-width="1" stroke-linejoin="round"/>
<line x1="400.60" y1="403.80" x2="460.29" y2="390.62" stroke="#25109c" stroke-width="1.5"/>
<polygon points="463.32,389.95 460.21,392.58 459.39,388.87" fill="#25109c" stroke="#25109c" stroke-width="1" stroke-linejoin="round"/>
<line x1="400.60" y1="403.80" x2="485.20" y2="403.61" stroke="#ff0000" stroke-width="1.5"/>
<polygon points="488.30,403.60 484.70,405.51 484.70,401.71" fill="#ff0000" stroke="#ff0000" stroke-width="1" stroke-linejoin="round"/>
<line x1="400.60" y1="403.80" x2="465.57" y2="424.07" stroke="#ff0000" stroke-width="1.5"/>
<polygon points="468.53,424.99 464.53,425.73 465.66,422.11" fill="#ff0000" stroke="#ff0000" stroke-width="1" stroke-linejoin="round"/>
<line x1="400.60" y1="403.80" x2="420.66" y2="429.41" stroke="#1c0ad7" stroke-width="1.5"/>
<polygon points="422.57,431.85 418.85,430.19 421.84,427.84" fill="#1c0ad7" stroke="#1c0ad7" stroke-width="1" stroke-linejoin="round"/>
<line x1="400.60" y1="403.80" x2="376.46" y2="424.90" stroke="#000000" stroke-width="1.5"/>
<polygon points="374.13,426.94 375.59,423.14 378.09,426.00" fill="#000000" stroke="#000000" stroke-width="1" stroke-linejoin="round"/>
<line x1="400.60" y1="403.80" x2="339.78" y2="410.39" stroke="#1e1047" stroke-width="1.5"/>
<polygon points="336.70,410.72 340.07,408.45 340.48,412.23" fill="#1e1047" stroke="#1e1047" stroke-width="1" stroke-linejoin="round"/>
<line x1="400.60" y1="403.80" x2="328.78" y2="395.63" stroke="#9200ca" stroke-width="1.5"/>
<polygon points="325.70,395.28 329.49,393.80 329.06,397.57" fill="#9200ca" stroke="#9200ca" stroke-width="1" stroke-linejoin="round"/>
<text x="432.00" y="381.56" font-size="6.0" fill="#200dc7" stroke="#200dc7" stroke-width="0.13" text-anchor="start">HH1</text>
<text x="466.60" y="388.96" font-size="6.0" fill="#25109c" stroke="#25109c" stroke-width="0.13" text-anchor="start">HH2</text>
<text x="482.60" y="401.16" font-size="6.0" fill="#ff0000" stroke="#ff0000" stroke-width="0.13" text-anchor="start">HH3</text>
<text x="472.40" y="425.16" font-size="6.0" fill="#ff0000" stroke="#ff0000" stroke-width="0.13" text-anchor="start">HH4</text>
<text x="426.00" y="432.56" font-size="6.0" fill="#1c0ad7" stroke="#1c0ad7" stroke-width="0.13" text-anchor="start">HH5</text>
<text x="359.00" y="432.76" font-size="6.0" fill="#000000" stroke="#000000" stroke-width="0.13" text-anchor="start">HH6</text>
<text x="321.00" y="416.16" font-size="6.0" fill="#1e1047" stroke="#1e1047" stroke-width="0.13" text-anchor="start">HH7</text>
<text x="318.00" y="401.56" font-size="6.0" fill="#9200ca" stroke="#9200ca" stroke-width="0.13" text-anchor="start">HH8</text>
<line x1="316.50" y1="403.80" x2="496" y2="403.80" stroke="#000" stroke-width="1.5" stroke-dasharray="6.1 5.95"/>
<line x1="400.60" y1="436.40" x2="400.60" y2="373.5" stroke="#000" stroke-width="1.5" stroke-dasharray="6.1 5.95"/>
<rect x="505.4" y="385.40" width="9.20" height="1.47" fill="#fd000f"/>
<rect x="505.4" y="386.56" width="9.20" height="1.47" fill="#f90023"/>
<rect x="505.4" y="387.73" width="9.20" height="1.47" fill="#f40031"/>
<rect x="505.4" y="388.89" width="9.20" height="1.47" fill="#ef003e"/>
<rect x="505.4" y="390.06" width="9.20" height="1.47" fill="#eb004a"/>
<rect x="505.4" y="391.22" width="9.20" height="1.47" fill="#e50055"/>
<rect x="505.4" y="392.39" width="9.20" height="1.47" fill="#e00061"/>
<rect x="505.4" y="393.56" width="9.20" height="1.47" fill="#da006c"/>
<rect x="505.4" y="394.72" width="9.20" height="1.47" fill="#d40077"/>
<rect x="505.4" y="395.88" width="9.20" height="1.47" fill="#cd0083"/>
<rect x="505.4" y="397.05" width="9.20" height="1.47" fill="#c6008e"/>
<rect x="505.4" y="398.21" width="9.20" height="1.47" fill="#be009a"/>
<rect x="505.4" y="399.38" width="9.20" height="1.47" fill="#b500a5"/>
<rect x="505.4" y="400.54" width="9.20" height="1.47" fill="#ab00b1"/>
<rect x="505.4" y="401.71" width="9.20" height="1.47" fill="#a000bd"/>
<rect x="505.4" y="402.88" width="9.20" height="1.47" fill="#9400c8"/>
<rect x="505.4" y="404.04" width="9.20" height="1.47" fill="#8500d4"/>
<rect x="505.4" y="405.20" width="9.20" height="1.47" fill="#7300e0"/>
<rect x="505.4" y="406.37" width="9.20" height="1.47" fill="#5b00ed"/>
<rect x="505.4" y="407.53" width="9.20" height="1.47" fill="#3500f9"/>
<rect x="505.4" y="408.70" width="9.20" height="1.47" fill="#0802f8"/>
<rect x="505.4" y="409.87" width="9.20" height="1.47" fill="#1406ea"/>
<rect x="505.4" y="411.03" width="9.20" height="1.47" fill="#1a09db"/>
<rect x="505.4" y="412.19" width="9.20" height="1.47" fill="#1f0bce"/>
<rect x="505.4" y="413.36" width="9.20" height="1.47" fill="#220dc0"/>
<rect x="505.4" y="414.52" width="9.20" height="1.47" fill="#240fb2"/>
<rect x="505.4" y="415.69" width="9.20" height="1.47" fill="#2510a5"/>
<rect x="505.4" y="416.86" width="9.20" height="1.47" fill="#251098"/>
<rect x="505.4" y="418.02" width="9.20" height="1.47" fill="#25118b"/>
<rect x="505.4" y="419.19" width="9.20" height="1.47" fill="#25117e"/>
<rect x="505.4" y="420.35" width="9.20" height="1.47" fill="#241171"/>
<rect x="505.4" y="421.51" width="9.20" height="1.47" fill="#221165"/>
<rect x="505.4" y="422.68" width="9.20" height="1.47" fill="#211059"/>
<rect x="505.4" y="423.84" width="9.20" height="1.47" fill="#1f104d"/>
<rect x="505.4" y="425.01" width="9.20" height="1.47" fill="#1c0f42"/>
<rect x="505.4" y="426.18" width="9.20" height="1.47" fill="#1a0e36"/>
<rect x="505.4" y="427.34" width="9.20" height="1.47" fill="#170c2c"/>
<rect x="505.4" y="428.50" width="9.20" height="1.47" fill="#140821"/>
<rect x="505.4" y="429.67" width="9.20" height="1.47" fill="#0e0517"/>
<rect x="505.4" y="430.83" width="9.20" height="1.47" fill="#05020a"/>
<rect x="505.4" y="387.05" width="2" height="0.7" fill="#fff"/>
<rect x="512.60" y="387.05" width="2" height="0.7" fill="#fff"/>
<text x="517.40" y="389.16" font-size="4.9" fill="#222" stroke="#222" stroke-width="0.11" text-anchor="start">0.0250</text>
<rect x="505.4" y="396.85" width="2" height="0.7" fill="#fff"/>
<rect x="512.60" y="396.85" width="2" height="0.7" fill="#fff"/>
<text x="517.40" y="398.96" font-size="4.9" fill="#222" stroke="#222" stroke-width="0.11" text-anchor="start">0.0225</text>
<rect x="505.4" y="406.65" width="2" height="0.7" fill="#fff"/>
<rect x="512.60" y="406.65" width="2" height="0.7" fill="#fff"/>
<text x="517.40" y="408.76" font-size="4.9" fill="#222" stroke="#222" stroke-width="0.11" text-anchor="start">0.0200</text>
<rect x="505.4" y="416.45" width="2" height="0.7" fill="#fff"/>
<rect x="512.60" y="416.45" width="2" height="0.7" fill="#fff"/>
<text x="517.40" y="418.56" font-size="4.9" fill="#222" stroke="#222" stroke-width="0.11" text-anchor="start">0.0175</text>
<rect x="505.4" y="426.05" width="2" height="0.7" fill="#fff"/>
<rect x="512.60" y="426.05" width="2" height="0.7" fill="#fff"/>
<text x="517.40" y="428.16" font-size="4.9" fill="#222" stroke="#222" stroke-width="0.11" text-anchor="start">0.0150</text>
</g>
<g class="bp">
<line x1="336.60" y1="454" x2="336.60" y2="516.2" stroke="#e6e6e6" stroke-width="0.45"/>
<line x1="376.20" y1="454" x2="376.20" y2="516.2" stroke="#e6e6e6" stroke-width="0.45"/>
<line x1="415.80" y1="454" x2="415.80" y2="516.2" stroke="#e6e6e6" stroke-width="0.45"/>
<line x1="455.40" y1="454" x2="455.40" y2="516.2" stroke="#e6e6e6" stroke-width="0.45"/>
<line x1="495.00" y1="454" x2="495.00" y2="516.2" stroke="#e6e6e6" stroke-width="0.45"/>
<line x1="314.4" y1="462.22" x2="501" y2="462.22" stroke="#e6e6e6" stroke-width="0.45"/>
<line x1="314.4" y1="474.88" x2="501" y2="474.88" stroke="#e6e6e6" stroke-width="0.45"/>
<line x1="314.4" y1="487.52" x2="501" y2="487.52" stroke="#e6e6e6" stroke-width="0.45"/>
<line x1="314.4" y1="500.18" x2="501" y2="500.18" stroke="#e6e6e6" stroke-width="0.45"/>
<line x1="314.4" y1="512.83" x2="501" y2="512.83" stroke="#e6e6e6" stroke-width="0.45"/>
<line x1="316.80" y1="454" x2="316.80" y2="516.2" stroke="#dedede" stroke-width="0.7"/>
<line x1="356.40" y1="454" x2="356.40" y2="516.2" stroke="#dedede" stroke-width="0.7"/>
<line x1="396.00" y1="454" x2="396.00" y2="516.2" stroke="#dedede" stroke-width="0.7"/>
<line x1="435.60" y1="454" x2="435.60" y2="516.2" stroke="#dedede" stroke-width="0.7"/>
<line x1="475.20" y1="454" x2="475.20" y2="516.2" stroke="#dedede" stroke-width="0.7"/>
<line x1="314.4" y1="455.90" x2="501" y2="455.90" stroke="#dedede" stroke-width="0.7"/>
<line x1="314.4" y1="468.55" x2="501" y2="468.55" stroke="#dedede" stroke-width="0.7"/>
<line x1="314.4" y1="481.20" x2="501" y2="481.20" stroke="#dedede" stroke-width="0.7"/>
<line x1="314.4" y1="493.85" x2="501" y2="493.85" stroke="#dedede" stroke-width="0.7"/>
<line x1="314.4" y1="506.50" x2="501" y2="506.50" stroke="#dedede" stroke-width="0.7"/>
<rect x="316.20" y="516.70" width="1.2" height="1.3" fill="#111"/>
<text x="316.80" y="523.06" font-size="4.9" fill="#4d4d4d" stroke="#4d4d4d" stroke-width="0.05" text-anchor="middle">−0.2</text>
<rect x="355.80" y="516.70" width="1.2" height="1.3" fill="#111"/>
<text x="356.40" y="523.06" font-size="4.9" fill="#4d4d4d" stroke="#4d4d4d" stroke-width="0.05" text-anchor="middle">−0.1</text>
<rect x="395.40" y="516.70" width="1.2" height="1.3" fill="#111"/>
<text x="396.00" y="523.06" font-size="4.9" fill="#4d4d4d" stroke="#4d4d4d" stroke-width="0.05" text-anchor="middle">0.0</text>
<rect x="435.00" y="516.70" width="1.2" height="1.3" fill="#111"/>
<text x="435.60" y="523.06" font-size="4.9" fill="#4d4d4d" stroke="#4d4d4d" stroke-width="0.05" text-anchor="middle">0.1</text>
<rect x="474.60" y="516.70" width="1.2" height="1.3" fill="#111"/>
<text x="475.20" y="523.06" font-size="4.9" fill="#4d4d4d" stroke="#4d4d4d" stroke-width="0.05" text-anchor="middle">0.2</text>
<rect x="312.40" y="455.30" width="1.3" height="1.2" fill="#111"/>
<text x="311.60" y="457.66" font-size="4.9" fill="#4d4d4d" stroke="#4d4d4d" stroke-width="0.05" text-anchor="end">0.2</text>
<rect x="312.40" y="467.95" width="1.3" height="1.2" fill="#111"/>
<text x="311.60" y="470.31" font-size="4.9" fill="#4d4d4d" stroke="#4d4d4d" stroke-width="0.05" text-anchor="end">0.1</text>
<rect x="312.40" y="480.60" width="1.3" height="1.2" fill="#111"/>
<text x="311.60" y="482.96" font-size="4.9" fill="#4d4d4d" stroke="#4d4d4d" stroke-width="0.05" text-anchor="end">0.0</text>
<rect x="312.40" y="493.25" width="1.3" height="1.2" fill="#111"/>
<text x="311.60" y="495.61" font-size="4.9" fill="#4d4d4d" stroke="#4d4d4d" stroke-width="0.05" text-anchor="end">−0.1</text>
<rect x="312.40" y="505.90" width="1.3" height="1.2" fill="#111"/>
<text x="311.60" y="508.26" font-size="4.9" fill="#4d4d4d" stroke="#4d4d4d" stroke-width="0.05" text-anchor="end">−0.2</text>
<text x="407.60" y="529.90" font-size="6.1" fill="#222" stroke="#222" stroke-width="0.13" text-anchor="middle">PC1 (35.6% )</text>
<text transform="translate(296.60,486.50) rotate(-90)" x="0" y="2.20" font-size="6.1" fill="#222" stroke="#222" stroke-width="0.13" text-anchor="middle">PC2 (29.2%)</text>
<line x1="396.00" y1="481.20" x2="488.60" y2="477.93" stroke="#7900dd" stroke-width="1.5"/>
<polygon points="491.70,477.82 488.17,479.85 488.04,476.05" fill="#7900dd" stroke="#7900dd" stroke-width="1" stroke-linejoin="round"/>
<line x1="396.00" y1="481.20" x2="490.20" y2="483.31" stroke="#7100e2" stroke-width="1.5"/>
<polygon points="493.30,483.38 489.66,485.20 489.74,481.40" fill="#7100e2" stroke="#7100e2" stroke-width="1" stroke-linejoin="round"/>
<line x1="396.00" y1="481.20" x2="465.38" y2="503.15" stroke="#ba009f" stroke-width="1.5"/>
<polygon points="468.33,504.09 464.33,504.81 465.47,501.19" fill="#ba009f" stroke="#ba009f" stroke-width="1" stroke-linejoin="round"/>
<line x1="396.00" y1="481.20" x2="346.83" y2="511.60" stroke="#ff0000" stroke-width="1.5"/>
<polygon points="344.20,513.23 346.26,509.72 348.26,512.95" fill="#ff0000" stroke="#ff0000" stroke-width="1" stroke-linejoin="round"/>
<line x1="396.00" y1="481.20" x2="326.72" y2="495.24" stroke="#210dc1" stroke-width="1.5"/>
<polygon points="323.69,495.86 326.84,493.28 327.59,497.01" fill="#210dc1" stroke="#210dc1" stroke-width="1" stroke-linejoin="round"/>
<line x1="396.00" y1="481.20" x2="342.32" y2="469.98" stroke="#1c0f3e" stroke-width="1.5"/>
<polygon points="339.29,469.34 343.20,468.22 342.42,471.94" fill="#1c0f3e" stroke="#1c0f3e" stroke-width="1" stroke-linejoin="round"/>
<line x1="396.00" y1="481.20" x2="381.77" y2="464.59" stroke="#000000" stroke-width="1.5"/>
<polygon points="379.76,462.23 383.54,463.73 380.65,466.20" fill="#000000" stroke="#000000" stroke-width="1" stroke-linejoin="round"/>
<line x1="396.00" y1="481.20" x2="389.19" y2="460.61" stroke="#23116e" stroke-width="1.5"/>
<polygon points="388.22,457.66 391.15,460.49 387.55,461.68" fill="#23116e" stroke="#23116e" stroke-width="1" stroke-linejoin="round"/>
<text x="478.00" y="477.16" font-size="6.0" fill="#7900dd" stroke="#7900dd" stroke-width="0.13" text-anchor="start">VH1</text>
<text x="488.60" y="489.76" font-size="6.0" fill="#7100e2" stroke="#7100e2" stroke-width="0.13" text-anchor="start">VH2</text>
<text x="472.00" y="504.16" font-size="6.0" fill="#ba009f" stroke="#ba009f" stroke-width="0.13" text-anchor="start">VH3</text>
<text x="346.00" y="513.16" font-size="6.0" fill="#ff0000" stroke="#ff0000" stroke-width="0.13" text-anchor="start">VH4</text>
<text x="325.00" y="495.16" font-size="6.0" fill="#210dc1" stroke="#210dc1" stroke-width="0.13" text-anchor="start">VH5</text>
<text x="323.00" y="474.16" font-size="6.0" fill="#1c0f3e" stroke="#1c0f3e" stroke-width="0.13" text-anchor="start">VH6</text>
<text x="364.40" y="466.16" font-size="6.0" fill="#000000" stroke="#000000" stroke-width="0.13" text-anchor="start">VH7</text>
<text x="391.00" y="462.16" font-size="6.0" fill="#23116e" stroke="#23116e" stroke-width="0.13" text-anchor="start">VH8</text>
<line x1="313.90" y1="481.20" x2="501" y2="481.20" stroke="#000" stroke-width="1.5" stroke-dasharray="6.1 5.95"/>
<line x1="396.00" y1="516.80" x2="396.00" y2="454" stroke="#000" stroke-width="1.5" stroke-dasharray="6.1 5.95"/>
<rect x="511" y="466.40" width="9.00" height="1.46" fill="#fd000f"/>
<rect x="511" y="467.55" width="9.00" height="1.46" fill="#f90023"/>
<rect x="511" y="468.71" width="9.00" height="1.46" fill="#f40031"/>
<rect x="511" y="469.87" width="9.00" height="1.46" fill="#ef003e"/>
<rect x="511" y="471.02" width="9.00" height="1.46" fill="#eb004a"/>
<rect x="511" y="472.17" width="9.00" height="1.46" fill="#e50055"/>
<rect x="511" y="473.33" width="9.00" height="1.46" fill="#e00061"/>
<rect x="511" y="474.49" width="9.00" height="1.46" fill="#da006c"/>
<rect x="511" y="475.64" width="9.00" height="1.46" fill="#d40077"/>
<rect x="511" y="476.79" width="9.00" height="1.46" fill="#cd0083"/>
<rect x="511" y="477.95" width="9.00" height="1.46" fill="#c6008e"/>
<rect x="511" y="479.11" width="9.00" height="1.46" fill="#be009a"/>
<rect x="511" y="480.26" width="9.00" height="1.46" fill="#b500a5"/>
<rect x="511" y="481.41" width="9.00" height="1.46" fill="#ab00b1"/>
<rect x="511" y="482.57" width="9.00" height="1.46" fill="#a000bd"/>
<rect x="511" y="483.73" width="9.00" height="1.46" fill="#9400c8"/>
<rect x="511" y="484.88" width="9.00" height="1.46" fill="#8500d4"/>
<rect x="511" y="486.03" width="9.00" height="1.46" fill="#7300e0"/>
<rect x="511" y="487.19" width="9.00" height="1.46" fill="#5b00ed"/>
<rect x="511" y="488.35" width="9.00" height="1.46" fill="#3500f9"/>
<rect x="511" y="489.50" width="9.00" height="1.46" fill="#0802f8"/>
<rect x="511" y="490.65" width="9.00" height="1.46" fill="#1406ea"/>
<rect x="511" y="491.81" width="9.00" height="1.46" fill="#1a09db"/>
<rect x="511" y="492.97" width="9.00" height="1.46" fill="#1f0bce"/>
<rect x="511" y="494.12" width="9.00" height="1.46" fill="#220dc0"/>
<rect x="511" y="495.27" width="9.00" height="1.46" fill="#240fb2"/>
<rect x="511" y="496.43" width="9.00" height="1.46" fill="#2510a5"/>
<rect x="511" y="497.59" width="9.00" height="1.46" fill="#251098"/>
<rect x="511" y="498.74" width="9.00" height="1.46" fill="#25118b"/>
<rect x="511" y="499.89" width="9.00" height="1.46" fill="#25117e"/>
<rect x="511" y="501.05" width="9.00" height="1.46" fill="#241171"/>
<rect x="511" y="502.21" width="9.00" height="1.46" fill="#221165"/>
<rect x="511" y="503.36" width="9.00" height="1.46" fill="#211059"/>
<rect x="511" y="504.51" width="9.00" height="1.46" fill="#1f104d"/>
<rect x="511" y="505.67" width="9.00" height="1.46" fill="#1c0f42"/>
<rect x="511" y="506.83" width="9.00" height="1.46" fill="#1a0e36"/>
<rect x="511" y="507.98" width="9.00" height="1.46" fill="#170c2c"/>
<rect x="511" y="509.13" width="9.00" height="1.46" fill="#140821"/>
<rect x="511" y="510.29" width="9.00" height="1.46" fill="#0e0517"/>
<rect x="511" y="511.45" width="9.00" height="1.46" fill="#05020a"/>
<rect x="511" y="468.25" width="2" height="0.7" fill="#fff"/>
<rect x="518.00" y="468.25" width="2" height="0.7" fill="#fff"/>
<text x="522.80" y="470.36" font-size="4.9" fill="#222" stroke="#222" stroke-width="0.11" text-anchor="start">0.08</text>
<rect x="511" y="476.75" width="2" height="0.7" fill="#fff"/>
<rect x="518.00" y="476.75" width="2" height="0.7" fill="#fff"/>
<text x="522.80" y="478.86" font-size="4.9" fill="#222" stroke="#222" stroke-width="0.11" text-anchor="start">0.07</text>
<rect x="511" y="485.25" width="2" height="0.7" fill="#fff"/>
<rect x="518.00" y="485.25" width="2" height="0.7" fill="#fff"/>
<text x="522.80" y="487.36" font-size="4.9" fill="#222" stroke="#222" stroke-width="0.11" text-anchor="start">0.06</text>
<rect x="511" y="493.75" width="2" height="0.7" fill="#fff"/>
<rect x="518.00" y="493.75" width="2" height="0.7" fill="#fff"/>
<text x="522.80" y="495.86" font-size="4.9" fill="#222" stroke="#222" stroke-width="0.11" text-anchor="start">0.05</text>
<rect x="511" y="502.25" width="2" height="0.7" fill="#fff"/>
<rect x="518.00" y="502.25" width="2" height="0.7" fill="#fff"/>
<text x="522.80" y="504.36" font-size="4.9" fill="#222" stroke="#222" stroke-width="0.11" text-anchor="start">0.04</text>
<rect x="511" y="510.75" width="2" height="0.7" fill="#fff"/>
<rect x="518.00" y="510.75" width="2" height="0.7" fill="#fff"/>
<text x="522.80" y="512.86" font-size="4.9" fill="#222" stroke="#222" stroke-width="0.11" text-anchor="start">0.03</text>
</g>
<text x="4.40" y="289.20" font-size="11" fill="#111" stroke="#111" stroke-width="0.24" text-anchor="start" font-weight="bold">(c)</text>
<text x="279.40" y="289.20" font-size="11" fill="#111" stroke="#111" stroke-width="0.24" text-anchor="start" font-weight="bold">(d)</text>
</svg>
</body></html>
